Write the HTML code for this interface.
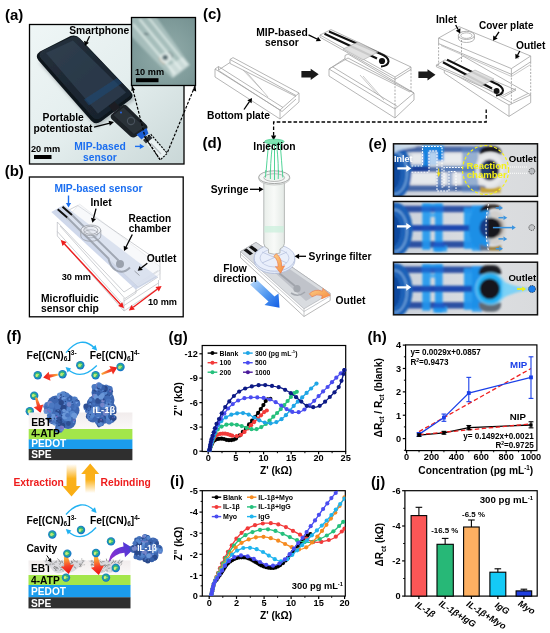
<!DOCTYPE html>
<html><head><meta charset="utf-8"><title>Figure</title>
<style>
html,body{margin:0;padding:0;background:#fff;}
svg{display:block;font-family:"Liberation Sans",sans-serif;}
</style></head><body>
<svg width="550" height="633" viewBox="0 0 550 633">
<rect width="550" height="633" fill="#fff"/>
<g id="pa"><defs>
<linearGradient id="abg" x1="0" y1="0" x2="1" y2="1"><stop offset="0" stop-color="#eff6f6"/><stop offset="0.5" stop-color="#e4eeee"/><stop offset="1" stop-color="#c9d7d7"/></linearGradient>
<linearGradient id="aph" x1="0" y1="0" x2="1" y2="1"><stop offset="0" stop-color="#27323e"/><stop offset="0.5" stop-color="#1c2732"/><stop offset="1" stop-color="#17212b"/></linearGradient>
<radialGradient id="ains" cx="0.55" cy="0.55" r="0.7"><stop offset="0" stop-color="#93adab"/><stop offset="0.6" stop-color="#819d9c"/><stop offset="1" stop-color="#759191"/></radialGradient>
<filter id="ab1" x="-20%" y="-20%" width="140%" height="140%"><feGaussianBlur stdDeviation="0.6"/></filter>
<filter id="ab3" x="-20%" y="-20%" width="140%" height="140%"><feGaussianBlur stdDeviation="0.8"/></filter>
<filter id="ab2" x="-20%" y="-20%" width="140%" height="140%"><feGaussianBlur stdDeviation="1.5"/></filter>
<clipPath id="aclip"><rect x="29.5" y="24.5" width="154.5" height="139.5"/></clipPath>
<clipPath id="aclip2"><rect x="131.5" y="17.5" width="64" height="68"/></clipPath>
</defs>
<rect x="29.5" y="24.5" width="154.5" height="139.5" fill="url(#abg)"/>
<g clip-path="url(#aclip)">
<path d="M38,62 L97,128 L136,99 L130,92 Z" fill="#9aa3a6" opacity="0.6" filter="url(#ab2)"/>
<g filter="url(#ab1)">
<path d="M40,51.5 Q34.5,55.5 38.5,60.5 L91,120.5 Q95.5,125.5 101,121.5 L130.5,99.5 Q134.5,96 130.5,91.5 L80,38.5 Q76,34 70.5,36 Z" fill="#0f161c"/>
<path d="M42,51 Q37.5,54.5 41,58.5 L92.5,117 Q96.5,121 100.5,118 L129,96.5 Q132,94 129,90.5 L79.5,38.8 Q76,35.2 71.5,37 Z" fill="url(#aph)"/>
<path d="M46,53 L73,40.5 L126,92.5 L98,113.5 Z" fill="#36465a" opacity="0.6"/>
<path d="M84,99.5 L117,78 L122,83 L89,105.5 Z" fill="#1f4a78" opacity="0.55"/>
<path d="M108.5,106 L114.5,101.5 L120.5,107.5 L113.5,112.5 Z" fill="#1a1f24"/>
<path d="M111.5,114.5 Q109.5,117 112,119.5 L130.5,136.5 Q133.5,138.5 136,136.5 L146.5,129.5 Q148.5,127.5 146.5,125 L127,106 Q124.5,104 122,105.5 Z" fill="#1b2026"/>
<path d="M113.5,115 L123.5,107.5 L144.5,127 L134,134 Z" fill="#2b3239"/>
<circle cx="131" cy="121" r="3.6" fill="none" stroke="#48525c" stroke-width="1.1"/>
<circle cx="121" cy="112.5" r="0.9" fill="#2b6cf0"/>
<path d="M136.5,134.5 L146.5,128 L148.5,133.5 L141.5,139.5 Z" fill="#1f5fd6"/>
<path d="M143,140 L149.5,135 L166.5,153 L160,159 Z" fill="#e9f1f1"/>
<path d="M143,140 L149.5,135 L152.5,138 L146,143.5 Z" fill="#2a2f34"/>
<path d="M151,143.5 L161,154" stroke="#b8bfc2" stroke-width="1.2"/>
</g>
</g>
<path d="M132,86 L145,137 L160,159.5 M195,86 L167,153.5" stroke="#000" stroke-width="1.2" stroke-dasharray="2.8,1.5" fill="none"/>
<path d="M145,137.5 L151,134.5 L167.3,153.3 L160.2,160 Z" stroke="#000" stroke-width="1.1" stroke-dasharray="2,1.2" fill="none"/>
<path d="M131.3,91 L132,85.8 L135.2,90 Z M195.5,85.8 L196.2,91.5 L192.6,90 Z" fill="#000"/>
<rect x="29.5" y="24.5" width="154.5" height="139.5" fill="none" stroke="#000" stroke-width="1.3"/>
<rect x="131.5" y="17.5" width="64" height="68" fill="url(#ains)"/>
<g clip-path="url(#aclip2)"><g filter="url(#ab3)">
<path d="M128,33 L128,14 L154.3,14 L189.5,64.5 L172,78 Z" fill="#bfd4d0" opacity="0.6"/>
<path d="M133,24 L175,74 M139.5,19 L181,69.5 M146.5,15 L186.5,65" stroke="#e6f1ee" stroke-width="2" opacity="0.75" fill="none"/>
<path d="M136.2,21.5 L178,72 M143,17 L184,67.5" stroke="#9fb9b5" stroke-width="1.3" opacity="0.8" fill="none"/>
<ellipse cx="165.5" cy="58" rx="5.8" ry="5.4" fill="#e3ecea" opacity="0.85"/>
<circle cx="165.2" cy="57.5" r="2.8" fill="#5d7177"/>
<path d="M168.5,52 Q172.5,53.5 172.3,57.5" stroke="#56666a" stroke-width="1" fill="none"/>
<path d="M159.5,57.5 Q160,62.5 165,64" stroke="#c9a68a" stroke-width="0.8" fill="none"/>
<path d="M144,33.5 L148.5,34.5" stroke="#5a6e73" stroke-width="1.3"/>
<path d="M168,66 L183,57 L190,65 L173,78 Z" fill="#e9f2f0" opacity="0.55"/>
</g></g>
<rect x="131.5" y="17.5" width="64" height="68" fill="none" stroke="#000" stroke-width="1.3"/>
<rect x="136" y="78.2" width="22.5" height="4" fill="#000"/>
<text x="135" y="75.2" font-size="9.2" text-anchor="start" fill="#000" font-weight="bold" >10 mm</text>
<text x="99.3" y="34" font-size="10.3" text-anchor="middle" fill="#000" font-weight="bold" >Smartphone</text>
<path d="M89.6,36.3 L86.6,42.5" stroke="#000" stroke-width="1.3"/><path d="M85,46 L83.9,40.8 L88.9,42.8 Z" fill="#000"/>
<text x="63.2" y="120.8" font-size="10.3" text-anchor="middle" fill="#000" font-weight="bold" >Portable</text>
<text x="63" y="131.8" font-size="10.3" text-anchor="middle" fill="#000" font-weight="bold" >potentiostat</text>
<path d="M94,127.2 L110,123.2" stroke="#000" stroke-width="1.3"/><path d="M114,122 L108.6,120.7 L109.8,125.8 Z" fill="#000"/>
<text x="31" y="151.8" font-size="9.2" text-anchor="start" fill="#000" font-weight="bold" >20 mm</text>
<rect x="34" y="155" width="17.5" height="4" fill="#000"/>
<text x="100" y="149.5" font-size="10.3" text-anchor="middle" fill="#1b6ef0" font-weight="bold" >MIP-based</text>
<text x="100" y="160.5" font-size="10.3" text-anchor="middle" fill="#1b6ef0" font-weight="bold" >sensor</text>
<path d="M135,146.4 L141,146.4" stroke="#1b6ef0" stroke-width="1.4"/><path d="M144.3,146.4 L139.8,143.8 L139.8,149 Z" fill="#1b6ef0"/></g>
<g id="pb"><rect x="29.4" y="177" width="153.8" height="139.8" fill="#fff" stroke="#000" stroke-width="1.3"/>
<g fill="none" stroke="#b9bcc2" stroke-width="0.7">
<path d="M57.3,229 L57.3,236 L124,311 L158.5,288 L158.5,280"/>
<path d="M57.3,231.5 L124,305.5 L158.5,283"/>
<path d="M124,298 L124,311"/>
<path d="M60,226 L125,298.5 L158,277"/>
<path d="M77.7,205.5 L160,262 L160,270 L136,286.5 L136,293 L124,301"/>
<path d="M77.7,205.5 L66,211.5"/>
<path d="M160,270 L160,280"/>
<path d="M57.3,222 L57.3,229 M57.3,222 L124,292 L158,270.5"/>
</g>
<path d="M51.3,212 L63.6,205 L157.8,277 L135.7,289.6 Z" fill="#cad4e9" opacity="0.9"/>
<path d="M66,219 L79.5,204 L160,266.5 L160,274 L138,287 Z" fill="#eef1f6" opacity="0.4" stroke="#b9bcc2" stroke-width="0.6"/>
<g fill="none" stroke="#9aa1ad" stroke-width="2" opacity="0.9">
<path d="M72,215 L118.5,260.5"/>
<path d="M67.2,217.5 L108.5,258.5 Q110,266 115.5,270 Q123,274.5 130,267.5"/>
</g>
<circle cx="120" cy="264" r="4" fill="#9aa1ad"/>
<path d="M57.7,209.2 L67.2,217.5 M62.5,206.8 L72,215" stroke="#111" stroke-width="2" fill="none"/>
<g fill="none" stroke="#9a9ea6" stroke-width="0.8">
<ellipse cx="90.8" cy="230.3" rx="10" ry="5.3" fill="#eef0f4" fill-opacity="0.6"/>
<ellipse cx="90.8" cy="230.3" rx="7" ry="4"/>
<path d="M80.8,230.3 L80.8,236 A10,5.3 0 0 0 100.8,236 L100.8,230.3"/>
<ellipse cx="90.8" cy="233.8" rx="7" ry="4" stroke-width="0.6"/>
</g>
<path d="M134.5,271 L139.5,275.5" stroke="#9a9ea6" stroke-width="1"/>
<path d="M60.8,240.0 L62.5,245.9 L66.6,242.1 Z" fill="#ee1c1c"/><line x1="64.5" y1="244.0" x2="120.3" y2="304.2" stroke="#ee1c1c" stroke-width="1.4"/><path d="M124.0,308.2 L118.2,306.1 L122.3,302.3 Z" fill="#ee1c1c"/>
<path d="M128.8,310.6 L134.9,309.5 L131.5,305.1 Z" fill="#ee1c1c"/><line x1="133.2" y1="307.3" x2="157.2" y2="289.3" stroke="#ee1c1c" stroke-width="1.4"/><path d="M161.6,286.0 L158.9,291.5 L155.5,287.1 Z" fill="#ee1c1c"/>
<text x="54.4" y="191.6" font-size="10.3" text-anchor="start" fill="#1b6ef0" font-weight="bold" >MIP-based sensor</text>
<line x1="68.5" y1="195.5" x2="68.5" y2="203.0" stroke="#1b6ef0" stroke-width="1.4"/><path d="M68.5,207.5 L65.9,203.0 L71.1,203.0 Z" fill="#1b6ef0"/>
<text x="90.5" y="205.5" font-size="10.3" text-anchor="start" fill="#000" font-weight="bold" >Inlet</text>
<line x1="96.0" y1="208.6" x2="93.5" y2="218.4" stroke="#000" stroke-width="1.3"/><path d="M92.4,222.8 L91.0,217.8 L96.0,219.1 Z" fill="#000"/>
<text x="149.8" y="222.2" font-size="10.1" text-anchor="middle" fill="#000" font-weight="bold" >Reaction</text>
<text x="149.8" y="231.6" font-size="10.1" text-anchor="middle" fill="#000" font-weight="bold" >chamber</text>
<line x1="132.3" y1="234.5" x2="126.0" y2="247.0" stroke="#000" stroke-width="1.3"/><path d="M124.0,251.0 L123.7,245.8 L128.3,248.1 Z" fill="#000"/>
<text x="146.7" y="261.8" font-size="10.3" text-anchor="start" fill="#000" font-weight="bold" >Outlet</text>
<line x1="147.3" y1="263.2" x2="141.2" y2="268.0" stroke="#000" stroke-width="1.3"/><path d="M137.7,270.8 L139.6,266.0 L142.8,270.0 Z" fill="#000"/>
<text x="61.7" y="279.6" font-size="9.2" text-anchor="start" fill="#000" font-weight="bold" >30 mm</text>
<text x="147.9" y="305.3" font-size="9.2" text-anchor="start" fill="#000" font-weight="bold" >10 mm</text>
<text x="41" y="301.7" font-size="10.3" text-anchor="start" fill="#000" font-weight="bold" >Microfluidic</text>
<text x="41" y="311.5" font-size="10.3" text-anchor="start" fill="#000" font-weight="bold" >sensor chip</text></g>
<g id="pc"><g fill="none" stroke="#a3a3a3" stroke-width="0.8" stroke-linejoin="round">
<path d="M215,69 L280,110 L280,119 L215,77 Z" fill="#fff"/>
<path d="M280,110 L299,93 L299,102 L280,119"/>
<path d="M215,69 L218.5,66.5 L283,107.5 M218.5,66.5 L218.5,70"/>
<path d="M218.5,70 L230,62.5 M230,59.5 L230,63.5 L296,96.5"/>
<path d="M230,59.5 L233,57.6 L299,93 M230,59.5 L296,95.5"/>
<path d="M218.5,70.5 L282,111.5 L296,99"/>
<path d="M243,70 L262,90 M246,71.5 L268,97" stroke-width="0.6"/>
</g>
<text x="207" y="119" font-size="10.3" text-anchor="start" fill="#000" font-weight="bold" >Bottom plate</text>
<line x1="244.0" y1="109.5" x2="249.4" y2="101.7" stroke="#000" stroke-width="1.3"/><path d="M252.0,98.0 L251.6,103.2 L247.3,100.2 Z" fill="#000"/>
<path d="M301.4,71.1 L310.7,71.1 L310.7,68.7 L318.7,74.3 L310.7,79.89999999999999 L310.7,77.5 L301.4,77.5 Z" fill="#1a1a1a"/>
<text x="282" y="35.8" font-size="10.3" text-anchor="middle" fill="#000" font-weight="bold" >MIP-based</text>
<text x="282" y="46.4" font-size="10.3" text-anchor="middle" fill="#000" font-weight="bold" >sensor</text>
<line x1="308.5" y1="34.8" x2="317.0" y2="39.0" stroke="#000" stroke-width="1.3"/><path d="M321.0,41.0 L315.8,41.3 L318.1,36.7 Z" fill="#000"/>
<g fill="none" stroke="#a3a3a3" stroke-width="0.8" stroke-linejoin="round">
<path d="M348,58 L414,93 L414,100 L395,118 L329,76 L329,69 Z" fill="#fff"/>
<path d="M329,69 L395,109 L395,118 M395,109 L414,93"/>
<path d="M329,69 L332.5,66.8 L397.5,106.5 M332.5,66.8 L345,58.5 M345,55.5 L345,59.5 L410,92"/>
<path d="M345,55.5 L348,54 L414,93"/>
<path d="M360,75 L378,95 M363,76 L384,100" stroke-width="0.6"/>
<path d="M320,35 L331,29.6 L411,67 L411,69.4 L395,79.4 L320,37.2 Z" fill="#fff"/>
<path d="M320,35 L395,77 L411,67 M395,77 L395,79.4"/>
</g>
<path d="M395,79.4 L395,109 M411,69.4 L411,92" stroke="#888" stroke-width="0.7" stroke-dasharray="2,1.4" fill="none"/>
<g fill="none" stroke="#111" stroke-width="2.1">
<path d="M324.5,33.8 L377,58.5"/>
<path d="M329,31.5 L381,54 Q388.5,57 388.5,61.5 Q388,66 381,66.5"/>
</g>
<circle cx="382" cy="61" r="3.1" fill="#111"/>
<path d="M343,49 L358,42 L378,52 L363,60 Z" fill="#dedede" stroke="#a0a0a0" stroke-width="0.6" opacity="0.9"/>
<path d="M418.4,71.6 L427.5,71.6 L427.5,69.2 L435.5,74.8 L427.5,80.39999999999999 L427.5,78.0 L418.4,78.0 Z" fill="#1a1a1a"/>
<g fill="none" stroke="#a3a3a3" stroke-width="0.8" stroke-linejoin="round">
<path d="M463,56 L530.7,94.8 L530.7,102.7 L509,116.4 L444.3,73 L444.3,68.6 Z" fill="#fff"/>
<path d="M444.3,68.6 L509,105 L509,116.4 M509,105 L530.7,94.8"/>
<path d="M447,66.5 L511,102.5 M513,101 L528,93.5"/>
<path d="M436.4,65 L445,59.8 L516,90 L504.5,96.5 L436.4,66.8 Z" fill="#fff"/>
<path d="M436.4,65 L504.5,94.5 L516,88.5"/>
</g>
<g fill="none" stroke="#111" stroke-width="2.1">
<path d="M443,62.3 L492,88.5"/>
<path d="M447,59.6 L494.5,83 Q502.5,86 503,90.5 Q502.5,95 496,95.5"/>
</g>
<circle cx="496.6" cy="91" r="2.9" fill="#111"/>
<path d="M462.5,76.5 L475,70 L494,79 L481,86 Z" fill="#dedede" stroke="#a0a0a0" stroke-width="0.6" opacity="0.9"/>
<g fill="none" stroke="#a3a3a3" stroke-width="0.8" stroke-linejoin="round">
<path d="M438.6,38 L459,26.6 L530.7,56 L530.7,61.8 L511.4,74.3 L438.6,43.6 Z" fill="#fff" fill-opacity="0.85"/>
<path d="M438.6,38 L511.4,68.6 L530.7,56 M511.4,68.6 L511.4,74.3"/>
<path d="M441,45.5 L511.4,76.5 L530.7,64.5" stroke-width="0.6"/>
<ellipse cx="466.4" cy="38.4" rx="8" ry="4.1" fill="#fff"/>
<path d="M458.4,38.4 L458.4,35.4 A8,4.1 0 0 1 474.4,35.4 L474.4,38.4"/>
<ellipse cx="466.4" cy="35.4" rx="8" ry="4.1" fill="#fff"/>
<ellipse cx="466.4" cy="35.6" rx="5.6" ry="2.8"/>
</g>
<path d="M438.6,43.6 L438.6,65 M511.4,74.3 L511.4,105 M530.7,61.8 L530.7,94.8 M461.5,40 L461.5,62" stroke="#888" stroke-width="0.7" stroke-dasharray="2,1.4" fill="none"/>
<circle cx="518" cy="58" r="0.8" fill="#999"/>
<text x="436" y="23.4" font-size="10.2" text-anchor="start" fill="#000" font-weight="bold" >Inlet</text>
<line x1="455.7" y1="25.0" x2="458.1" y2="29.5" stroke="#000" stroke-width="1.3"/><path d="M460.2,33.5 L455.8,30.7 L460.4,28.3 Z" fill="#000"/>
<text x="479" y="29" font-size="10" text-anchor="start" fill="#000" font-weight="bold" >Cover plate</text>
<line x1="499.0" y1="31.8" x2="495.5" y2="37.1" stroke="#000" stroke-width="1.3"/><path d="M493.0,40.8 L493.3,35.6 L497.7,38.5 Z" fill="#000"/>
<text x="516" y="48.8" font-size="10.2" text-anchor="start" fill="#000" font-weight="bold" >Outlet</text>
<line x1="519.8" y1="51.0" x2="517.6" y2="55.0" stroke="#000" stroke-width="1.3"/><path d="M515.5,59.0 L515.3,53.8 L519.9,56.3 Z" fill="#000"/>
<path d="M486.2,109.5 L486.2,122 L273.6,122 L273.6,136" stroke="#000" stroke-width="1.3" stroke-dasharray="3.6,2" fill="none"/>
<path d="M273.6,140.5 L271,135.5 L276.2,135.5 Z" fill="#000"/></g>
<g id="pd"><defs>
<linearGradient id="dflow" gradientUnits="userSpaceOnUse" x1="251" y1="280" x2="279" y2="307"><stop offset="0" stop-color="#b9d9fa"/><stop offset="0.55" stop-color="#4f97f0"/><stop offset="1" stop-color="#1560e6"/></linearGradient>
<linearGradient id="dor" x1="0" y1="0" x2="1" y2="1"><stop offset="0" stop-color="#fbd08a"/><stop offset="1" stop-color="#f58a3c"/></linearGradient>
<linearGradient id="dbar" x1="0" y1="0" x2="1" y2="0"><stop offset="0" stop-color="#e9eeea"/><stop offset="0.5" stop-color="#f8faf8"/><stop offset="1" stop-color="#e3e9e5"/></linearGradient>
</defs>
<path d="M240.5,251.6 L256,242.4 L330.2,293.4 L330.2,300.5 L304,316.5 L240.5,257.5 Z" fill="#fff" stroke="#9a9a9a" stroke-width="0.7"/>
<path d="M240.5,251.6 L256,242.4 L330.2,293.4 L304,308.8 Z" fill="#d9dce0" stroke="#a5a8ad" stroke-width="0.6"/>
<path d="M240.5,254 L304,311.5 L330.2,296" fill="none" stroke="#a5a8ad" stroke-width="0.6"/>
<path d="M304,308.8 L304,316.5" stroke="#a5a8ad" stroke-width="0.6"/>
<path d="M272,270 L283,264.5 L322,291.5 L306,301 Z" fill="#b9bdc4" opacity="0.8"/>
<path d="M279,273 L295,286" stroke="#a0a4ab" stroke-width="2"/>
<circle cx="297" cy="288.7" r="3.6" fill="#a3a7ae"/>
<path d="M291,293 Q298,298 305,292" fill="none" stroke="#a3a7ae" stroke-width="1.6"/>
<path d="M243.5,250.3 L246.5,248.5 L253,253.5 L250,255.3 Z M248.8,247.2 L251.8,245.4 L258.3,250.4 L255.3,252.2 Z" fill="#111"/>
<ellipse cx="274.5" cy="260.3" rx="20.4" ry="13.2" fill="#e6edfb" stroke="#a9b6d6" stroke-width="0.8" opacity="0.92"/>
<ellipse cx="274.5" cy="258" rx="20.4" ry="13.2" fill="#eaf0fc" stroke="#a9b6d6" stroke-width="0.8" opacity="0.92"/>
<ellipse cx="274.5" cy="258" rx="14.5" ry="9" fill="none" stroke="#b6c2de" stroke-width="0.7"/>
<path d="M262,252 L287,263 M262,263 L287,252" stroke="#b6c2de" stroke-width="0.8"/>
<path d="M263.8,179 L263.8,243.5 Q263.8,247 268.5,249 L268.5,253 Q274,255.5 280,253 L280,249 Q284.4,247 284.4,243.5 L284.4,179 Z" fill="url(#dbar)" stroke="#a6aaa8" stroke-width="0.8"/>
<rect x="264.4" y="226" width="19.4" height="6.5" fill="#c9f0dc" opacity="0.7"/>
<g fill="none" stroke="#3ecf8c" stroke-width="0.9">
<path d="M268.6,143.5 Q267,160 265.6,177.5 M280.2,143.5 Q281.5,160 282.8,177.5 M272.5,144 Q270,165 270.5,180 M276.5,144 Q279,165 278,180 M274.5,144 L274.5,181"/>
</g>
<ellipse cx="274.3" cy="141.6" rx="9.8" ry="2.4" fill="#7fe3b2" stroke="#3ecf8c" stroke-width="0.7"/>
<ellipse cx="274.2" cy="178.6" rx="15.6" ry="6.4" fill="#f4f6f5" fill-opacity="0.7" stroke="#b5b7b6" stroke-width="0.7"/>
<ellipse cx="274.2" cy="177.2" rx="15.6" ry="6.4" fill="#f8faf9" fill-opacity="0.75" stroke="#9d9f9e" stroke-width="0.9"/>
<ellipse cx="274.2" cy="177.6" rx="10.4" ry="3.9" fill="#eef3ef" stroke="#9d9f9e" stroke-width="0.7"/>
<g fill="none" stroke="#3ecf8c" stroke-width="0.9"><path d="M265.9,170 L265.5,177.5 M282.3,170 L282.8,177.5 M270.3,170 L270.4,179 M278.5,170 L278.2,179 M274.5,170 L274.5,180"/></g>
<path d="M273.8,256.2 Q278.6,260.5 278,267.2 L275.4,266.6 L280.6,273.2 L284.6,265.8 L281.6,266.8 Q282.2,258.5 276.4,253.8 Z" fill="url(#dor)" stroke="#ee7040" stroke-width="0.6"/>
<path d="M309.4,293.8 Q314.5,288.4 322.6,291.2 L322.8,288.4 L330.2,295.2 L321.6,298.8 L322.2,295.6 Q316.5,293.6 312,296.8 Z" fill="url(#dor)" stroke="#ee7040" stroke-width="0.6"/>
<path d="M250,284.5 L256.5,279.5 L274.5,296.5 L278.5,293.5 L279.5,307.8 L264.5,305 L268.5,301.5 Z" fill="url(#dflow)"/>
<text x="274.5" y="149.6" font-size="10.3" text-anchor="middle" fill="#000" font-weight="bold" >Injection</text>
<text x="210.7" y="193" font-size="10.3" text-anchor="start" fill="#000" font-weight="bold" >Syringe</text>
<line x1="250.0" y1="189.3" x2="259.0" y2="189.3" stroke="#000" stroke-width="1.3"/><path d="M263.5,189.3 L259.0,191.9 L259.0,186.7 Z" fill="#000"/>
<text x="308.6" y="259.6" font-size="10.3" text-anchor="start" fill="#000" font-weight="bold" >Syringe filter</text>
<line x1="306.0" y1="256.3" x2="299.1" y2="256.3" stroke="#000" stroke-width="1.3"/><path d="M294.6,256.3 L299.1,253.7 L299.1,258.9 Z" fill="#000"/>
<text x="235" y="272.3" font-size="10.3" text-anchor="middle" fill="#000" font-weight="bold" >Flow</text>
<text x="235" y="282.3" font-size="10.3" text-anchor="middle" fill="#000" font-weight="bold" >direction</text>
<text x="335.6" y="304.2" font-size="10.3" text-anchor="start" fill="#000" font-weight="bold" >Outlet</text></g>
<g id="pe"><defs>
<linearGradient id="ebg" x1="0" y1="0" x2="1" y2="0"><stop offset="0" stop-color="#c9d0da"/><stop offset="0.6" stop-color="#dcdee1"/><stop offset="1" stop-color="#d9dbdd"/></linearGradient>
<filter id="eb2" x="-5%" y="-5%" width="110%" height="110%"><feGaussianBlur stdDeviation="1.1"/></filter>
</defs>
<clipPath id="ec1"><rect x="393.5" y="143.8" width="144.0" height="52.5"/></clipPath>
<rect x="393.5" y="143.8" width="144.0" height="52.5" fill="url(#ebg)"/>
<g clip-path="url(#ec1)">
<g filter="url(#eb2)">
<rect x="393.5" y="146.5" width="92" height="5.6" fill="#2f549c" opacity="0.85"/>
<rect x="403.5" y="166.95" width="80" height="5.199999999999999" fill="#2f549c" opacity="0.8"/>
<rect x="393.5" y="185.5" width="92" height="5.6" fill="#2f549c" opacity="0.85"/>
<rect x="412" y="153.8" width="50" height="9.5" fill="#eceef0" opacity="0.8"/>
<rect x="409" y="172.8" width="53" height="11" fill="#eceef0" opacity="0.8"/>
<path d="M422.7,145.60000000000002 L443.5,145.60000000000002 L443.5,160.8 L437,160.8 L437,151.3 L429,151.3 L429,171.8 L412,171.8 L412,165.3 L422.7,165.3 Z" fill="#1583e0"/>
<rect x="429" y="151.3" width="8" height="14" fill="#a9cdf0" opacity="0.8"/>
<rect x="412" y="166.0" width="17" height="5.6" fill="#1d3f98"/>
<rect x="437" y="167.8" width="5" height="22" fill="#4a73b5" opacity="0.75"/>
<rect x="447.5" y="167.8" width="5" height="22" fill="#6a8cc2" opacity="0.6"/>
<rect x="442" y="166.20000000000002" width="20" height="5" fill="#5a80ba" opacity="0.8"/>
<ellipse cx="395.5" cy="172.05" rx="16" ry="27.3" fill="#1f5fb4"/>
<ellipse cx="394.5" cy="173.05" rx="12.5" ry="21.0" fill="none" stroke="#7fb2e2" stroke-width="1.8" opacity="0.85"/>
<ellipse cx="392.5" cy="173.05" rx="8" ry="15.75" fill="#0f4398" opacity="0.85"/>
<path d="M393.5,143.8 L415.5,143.8 L415.5,147.3 Q401.5,148.8 393.5,152.8 Z" fill="#d3e2ee" opacity="0.9"/>
<rect x="462" y="147.8" width="16" height="44.5" fill="#5f8ac4" opacity="0.55"/>
<ellipse cx="489.5" cy="170.05" rx="14" ry="17" fill="#e9eaec" opacity="0.9"/>
<ellipse cx="489.5" cy="170.05" rx="9.6" ry="10.5" fill="#1a2140"/>
<ellipse cx="485.5" cy="170.05" rx="5" ry="8" fill="#2a4a86" opacity="0.7"/>
<path d="M479.5,154.3 Q479.5,146.8 487.5,146.3 L493.5,146.3 Q501.5,146.8 501.5,154.3 Q490.5,148.8 479.5,154.3 Z" fill="#14161c"/>
<path d="M480.5,186.3 Q490.5,191.3 500.5,186.3 L500.5,192.8 L480.5,192.8 Z" fill="#c6a032"/>
</g>
</g>
<rect x="393.5" y="143.8" width="144.0" height="52.5" fill="none" stroke="#111" stroke-width="1.5"/>
<clipPath id="ec2"><rect x="393.5" y="201.5" width="144.0" height="52.400000000000006"/></clipPath>
<rect x="393.5" y="201.5" width="144.0" height="52.400000000000006" fill="url(#ebg)"/>
<g clip-path="url(#ec2)">
<g filter="url(#eb2)">
<rect x="393.5" y="205.8" width="92" height="6.4" fill="#24489f" opacity="0.95"/>
<rect x="403.5" y="225.0" width="80" height="6.0" fill="#24489f" opacity="0.95"/>
<rect x="393.5" y="241.20000000000002" width="92" height="6.4" fill="#24489f" opacity="0.95"/>
<rect x="422.3" y="203.5" width="8" height="46.400000000000006" fill="#1f98f0" opacity="0.9"/>
<rect x="435" y="203.5" width="7.6" height="48.400000000000006" fill="#1f98f0" opacity="0.9"/>
<rect x="422.3" y="203.5" width="20.3" height="5" fill="#1f98f0" opacity="0.9"/>
<rect x="430" y="213.0" width="6" height="4" fill="#1f98f0" opacity="0.7"/>
<rect x="433" y="245.4" width="14" height="6" fill="#1f98f0" opacity="0.9"/>
<rect x="464" y="207.5" width="10" height="41.400000000000006" fill="#1f98f0" opacity="0.92"/>
<rect x="472" y="205.5" width="12" height="22.008000000000003" fill="#1f98f0" opacity="0.9"/>
<rect x="472" y="230.0" width="10" height="20.960000000000004" fill="#1f98f0" opacity="0.85"/>
<rect x="421" y="206.2" width="23" height="5.6" fill="#1f5fc8" opacity="0.8"/>
<rect x="412" y="225.0" width="66" height="6" fill="#1d47b0" opacity="0.9"/>
<rect x="433" y="241.9" width="12" height="5.5" fill="#1f50c0" opacity="0.8"/>
<ellipse cx="395.5" cy="229.7" rx="17" ry="27.248000000000005" fill="#1c62b8"/>
<ellipse cx="394.5" cy="230.7" rx="12.5" ry="20.960000000000004" fill="none" stroke="#7fb2e2" stroke-width="1.8" opacity="0.85"/>
<ellipse cx="392.5" cy="230.7" rx="8" ry="15.72" fill="#0f4398" opacity="0.85"/>
<ellipse cx="481" cy="227.7" rx="12" ry="22" fill="#1b8fe6"/>
<ellipse cx="495" cy="227.7" rx="11" ry="17" fill="#cfccc9" opacity="0.85"/>
<ellipse cx="497" cy="227.7" rx="6.5" ry="9" fill="#8a817a" opacity="0.8"/>
<ellipse cx="491" cy="228.2" rx="10" ry="10.4" fill="#17181f"/>
<path d="M487.5,217.7 A9.6,10.4 0 0 0 487.5,238.2 Z" fill="#163a86"/>
<path d="M480,212.0 Q480,205.0 489,204.5 L489,210.5 Q485,209.5 480,212.0 Z" fill="#14161c"/>
<path d="M489,204.5 L495,204.5 Q501,205.0 501,209.0 Q494,207.0 489,209.5 Z" fill="#2e2722"/>
<path d="M489,246.4 Q495,247.9 501,244.9 L501,250.4 L489,250.4 Z" fill="#9a7a35"/>
<path d="M480,243.9 Q485,246.9 489,246.4 L489,250.4 L480,250.4 Z" fill="#5a6f8a"/>
</g>
</g>
<rect x="393.5" y="201.5" width="144.0" height="52.400000000000006" fill="none" stroke="#111" stroke-width="1.5"/>
<clipPath id="ec3"><rect x="393.5" y="262.2" width="144.0" height="52.60000000000002"/></clipPath>
<rect x="393.5" y="262.2" width="144.0" height="52.60000000000002" fill="url(#ebg)"/>
<g clip-path="url(#ec3)">
<g filter="url(#eb2)">
<rect x="393.5" y="266.5" width="92" height="6.4" fill="#24489f" opacity="0.95"/>
<rect x="403.5" y="285.8" width="80" height="6.0" fill="#24489f" opacity="0.95"/>
<rect x="393.5" y="302.1" width="92" height="6.4" fill="#24489f" opacity="0.95"/>
<rect x="422.3" y="264.2" width="8" height="46.60000000000002" fill="#1f98f0" opacity="0.9"/>
<rect x="435" y="264.2" width="7.6" height="48.60000000000002" fill="#1f98f0" opacity="0.9"/>
<rect x="422.3" y="264.2" width="20.3" height="5" fill="#1f98f0" opacity="0.9"/>
<rect x="430" y="273.7" width="6" height="4" fill="#1f98f0" opacity="0.7"/>
<rect x="433" y="306.3" width="14" height="6" fill="#1f98f0" opacity="0.9"/>
<rect x="464" y="268.2" width="10" height="41.60000000000002" fill="#1f98f0" opacity="0.92"/>
<rect x="472" y="266.2" width="12" height="22.09200000000001" fill="#1f98f0" opacity="0.9"/>
<rect x="472" y="290.8" width="10" height="21.04000000000001" fill="#1f98f0" opacity="0.85"/>
<rect x="421" y="266.9" width="23" height="5.6" fill="#1f5fc8" opacity="0.8"/>
<rect x="412" y="285.8" width="66" height="6" fill="#1d47b0" opacity="0.9"/>
<rect x="433" y="302.8" width="12" height="5.5" fill="#1f50c0" opacity="0.8"/>
<ellipse cx="395.5" cy="290.5" rx="17" ry="27.352000000000015" fill="#1c62b8"/>
<ellipse cx="394.5" cy="291.5" rx="12.5" ry="21.04000000000001" fill="none" stroke="#7fb2e2" stroke-width="1.8" opacity="0.85"/>
<ellipse cx="392.5" cy="291.5" rx="8" ry="15.780000000000006" fill="#0f4398" opacity="0.85"/>
<rect x="472" y="269.2" width="10" height="38.60000000000002" fill="#1e90e8"/>
<path d="M478.7,274.2 Q478.7,265.7 486.7,265.2 L493.7,265.2 Q501.2,265.7 501.2,274.2 Z" fill="#1a1c22"/>
<path d="M478.7,302.8 L501.2,302.8 Q501.2,311.3 493.7,311.8 L486.7,311.8 Q478.7,311.3 478.7,302.8 Z" fill="#616a74"/>
<ellipse cx="490.7" cy="288.8" rx="15.5" ry="16.5" fill="#7fd2f6" opacity="0.8"/>
<ellipse cx="490.2" cy="288.8" rx="13.6" ry="15" fill="#22aef2"/>
<path d="M501.7,280.8 Q513.7,286.8 528.7,288.0 L528.7,290.2 Q513.7,291.8 501.7,298.8 Z" fill="#74d0f8" opacity="0.9"/>
<ellipse cx="489.7" cy="288.8" rx="10.2" ry="10.4" fill="#14151a"/>
</g>
</g>
<rect x="393.5" y="262.2" width="144.0" height="52.60000000000002" fill="none" stroke="#111" stroke-width="1.5"/>
<g fill="none" stroke="#fff" stroke-width="1.1" stroke-dasharray="1.8,1.2">
<path d="M411.5,172.3 L429,172.3 L429,151 L437,151 L437,191 L449,191 L449,171.5 L456,171.5 L456,191"/>
<path d="M411.5,166 L422.5,166 L422.5,146.5 L442,146.5 L442,187 L444,187 L444,167.5 L463,167.5"/>
<path d="M508,167 L528,167 M508,173.2 L528,173.2" stroke-dasharray="1,1"/>
</g>
<ellipse cx="485.6" cy="170" rx="23" ry="24.5" fill="none" stroke="#f4f01a" stroke-width="1.2" stroke-dasharray="3,2"/>
<path d="M438.7,168.5 L438.7,173" stroke="#f4e01a" stroke-width="1"/><path d="M438.7,177 L436.9,172.6 L440.5,172.6 Z" fill="#f4e01a"/>
<text x="394" y="161.8" font-size="9" text-anchor="start" fill="#fff" font-weight="bold" >Inlet</text>
<path d="M397.3,167.3 L406.3,167.3 L406.3,165.0 L411.3,168.4 L406.3,171.8 L406.3,169.5 L397.3,169.5 Z" fill="#fff"/>
<text x="486.7" y="168.6" font-size="9.6" text-anchor="middle" fill="#f4f01a" font-weight="bold" >Reaction</text>
<text x="486.7" y="177.9" font-size="9.6" text-anchor="middle" fill="#f4f01a" font-weight="bold" >chamber</text>
<text x="508.7" y="161.6" font-size="9.6" text-anchor="start" fill="#000" font-weight="bold" >Outlet</text>
<circle cx="531.9" cy="171.2" r="2.9" fill="#b9bcc0" stroke="#333" stroke-width="0.8" stroke-dasharray="1.2,0.8"/>
<path d="M397,225.20000000000002 L406.3,225.20000000000002 L406.3,222.9 L411.3,226.3 L406.3,229.70000000000002 L406.3,227.4 L397,227.4 Z" fill="#fff"/>
<path d="M488.5,204 Q483.5,227.5 488.5,251" fill="none" stroke="#fff" stroke-width="1" stroke-dasharray="2.4,1.6"/>
<line x1="495.7" y1="207.9" x2="499.2" y2="207.9" stroke="#3a94e0" stroke-width="1.5"/><path d="M503.0,207.9 L499.2,210.2 L499.2,205.6 Z" fill="#3a94e0"/>
<line x1="498.5" y1="217.7" x2="503.5" y2="217.7" stroke="#3a94e0" stroke-width="1.5"/><path d="M507.3,217.7 L503.5,220.0 L503.5,215.4 Z" fill="#3a94e0"/>
<line x1="492.9" y1="227.6" x2="512.0" y2="227.6" stroke="#3a94e0" stroke-width="1.5"/><path d="M515.8,227.6 L512.0,229.9 L512.0,225.3 Z" fill="#3a94e0"/>
<line x1="498.5" y1="238.9" x2="503.5" y2="238.9" stroke="#3a94e0" stroke-width="1.5"/><path d="M507.3,238.9 L503.5,241.2 L503.5,236.6 Z" fill="#3a94e0"/>
<line x1="495.7" y1="248.7" x2="499.2" y2="248.7" stroke="#3a94e0" stroke-width="1.5"/><path d="M503.0,248.7 L499.2,251.0 L499.2,246.4 Z" fill="#3a94e0"/>
<circle cx="531.8" cy="227.6" r="2.9" fill="#c4c6c9" stroke="#333" stroke-width="0.8" stroke-dasharray="1.2,0.8"/>
<path d="M397,286.2 L406.3,286.2 L406.3,283.90000000000003 L411.3,287.3 L406.3,290.7 L406.3,288.40000000000003 L397,288.40000000000003 Z" fill="#fff"/>
<text x="508.4" y="281" font-size="9.6" text-anchor="start" fill="#000" font-weight="bold" >Outlet</text>
<line x1="517.0" y1="289.0" x2="522.2" y2="289.0" stroke="#f2ee10" stroke-width="1.8"/><path d="M526.0,289.0 L522.2,291.4 L522.2,286.6 Z" fill="#f2ee10"/>
<circle cx="532" cy="289" r="3.5" fill="#1b7eea" stroke="#123" stroke-width="0.7" stroke-dasharray="1.2,0.8"/></g>
<g id="pf"><defs>
<radialGradient id="feb" cx="0.47" cy="0.47" r="0.56"><stop offset="0" stop-color="#8fe646"/><stop offset="0.4" stop-color="#36b878"/><stop offset="0.75" stop-color="#1684c4"/><stop offset="1" stop-color="#0f63c8"/></radialGradient>
<linearGradient id="febt" x1="0" y1="0" x2="0" y2="1"><stop offset="0" stop-color="#f1ecec"/><stop offset="1" stop-color="#fbf9f9"/></linearGradient>
<filter id="fpb" x="-10%" y="-10%" width="120%" height="120%"><feGaussianBlur stdDeviation="0.5"/></filter>
<linearGradient id="fdn" x1="0" y1="0" x2="0" y2="1"><stop offset="0" stop-color="#fbb21a" stop-opacity="0"/><stop offset="0.45" stop-color="#fbb21a" stop-opacity="1"/><stop offset="1" stop-color="#f9ad14"/></linearGradient>
<linearGradient id="fup" x1="0" y1="0" x2="0" y2="1"><stop offset="0" stop-color="#f9ad14"/><stop offset="0.55" stop-color="#fbb21a" stop-opacity="1"/><stop offset="1" stop-color="#fbb21a" stop-opacity="0"/></linearGradient>
<linearGradient id="fpur" gradientUnits="userSpaceOnUse" x1="111" y1="560" x2="132" y2="548"><stop offset="0" stop-color="#8a2fd0"/><stop offset="1" stop-color="#4a3ad8"/></linearGradient>
<linearGradient id="fr1" gradientUnits="userSpaceOnUse" x1="57.8" y1="374.7" x2="43.2" y2="377"><stop offset="0" stop-color="#fbb03a"/><stop offset="0.55" stop-color="#f5402a"/><stop offset="1" stop-color="#ee1515"/></linearGradient>
<linearGradient id="fr2" gradientUnits="userSpaceOnUse" x1="101.6" y1="374" x2="117" y2="368"><stop offset="0" stop-color="#fbb03a"/><stop offset="0.55" stop-color="#f5402a"/><stop offset="1" stop-color="#ee1515"/></linearGradient>
<linearGradient id="fr3" gradientUnits="userSpaceOnUse" x1="36" y1="397" x2="40.5" y2="412.5"><stop offset="0" stop-color="#fbb03a"/><stop offset="0.55" stop-color="#f5402a"/><stop offset="1" stop-color="#ee1515"/></linearGradient>
<linearGradient id="fr4" gradientUnits="userSpaceOnUse" x1="66" y1="558" x2="68.6" y2="573"><stop offset="0" stop-color="#fbb03a"/><stop offset="0.55" stop-color="#f5402a"/><stop offset="1" stop-color="#ee1515"/></linearGradient>
<linearGradient id="fr5" gradientUnits="userSpaceOnUse" x1="96" y1="558" x2="98.6" y2="574"><stop offset="0" stop-color="#fbb03a"/><stop offset="0.55" stop-color="#f5402a"/><stop offset="1" stop-color="#ee1515"/></linearGradient>
</defs>
<text x="26.6" y="359.4" font-size="10.3" text-anchor="start" fill="#000" font-weight="bold" >Fe[(CN)<tspan dy="2" font-size="6.5">6</tspan><tspan dy="-2">]</tspan><tspan dy="-4" font-size="6.5">3-</tspan></text>
<text x="89.7" y="359.4" font-size="10.3" text-anchor="start" fill="#000" font-weight="bold" >Fe[(CN)<tspan dy="2" font-size="6.5">6</tspan><tspan dy="-2">]</tspan><tspan dy="-4" font-size="6.5">4-</tspan></text>
<path d="M66,352.7 Q81,334.5 94.5,348" fill="none" stroke="#22b2f2" stroke-width="1.3"/><path d="M97.2,350.8 L91.6,348.6 L95.6,345 Z" fill="#22b2f2"/>
<path d="M96.8,365.5 Q81.5,381 68,369.5" fill="none" stroke="#22b2f2" stroke-width="1.3"/><path d="M65.6,367 L71.2,368.6 L67.6,372.6 Z" fill="#22b2f2"/>
<circle cx="80.3" cy="365.3" r="4.2" fill="url(#feb)"/><text x="80.0" y="366.90000000000003" font-size="4.6" text-anchor="middle" fill="#f4f48a" font-weight="bold">e<tspan dy="-1.5" font-size="3.4">-</tspan></text>
<circle cx="37.7" cy="375.2" r="4.2" fill="url(#feb)"/><text x="37.400000000000006" y="376.8" font-size="4.6" text-anchor="middle" fill="#f4f48a" font-weight="bold">e<tspan dy="-1.5" font-size="3.4">-</tspan></text>
<circle cx="62.5" cy="374.2" r="4.2" fill="url(#feb)"/><text x="62.2" y="375.8" font-size="4.6" text-anchor="middle" fill="#f4f48a" font-weight="bold">e<tspan dy="-1.5" font-size="3.4">-</tspan></text>
<circle cx="95.6" cy="375.2" r="4.2" fill="url(#feb)"/><text x="95.3" y="376.8" font-size="4.6" text-anchor="middle" fill="#f4f48a" font-weight="bold">e<tspan dy="-1.5" font-size="3.4">-</tspan></text>
<circle cx="120.5" cy="367" r="4.2" fill="url(#feb)"/><text x="120.2" y="368.6" font-size="4.6" text-anchor="middle" fill="#f4f48a" font-weight="bold">e<tspan dy="-1.5" font-size="3.4">-</tspan></text>
<circle cx="34.2" cy="395.7" r="4.2" fill="url(#feb)"/><text x="33.900000000000006" y="397.3" font-size="4.6" text-anchor="middle" fill="#f4f48a" font-weight="bold">e<tspan dy="-1.5" font-size="3.4">-</tspan></text>
<circle cx="29.8" cy="411.2" r="4.2" fill="url(#feb)"/><text x="29.5" y="412.8" font-size="4.6" text-anchor="middle" fill="#f4f48a" font-weight="bold">e<tspan dy="-1.5" font-size="3.4">-</tspan></text>
<path d="M57.6,373.7 L49.3,374.6 L48.7,371.7 L43.2,377.4 L50.5,380.7 L49.9,377.7 L58.0,375.5 Z" fill="url(#fr1)"/>
<path d="M102.0,375.1 L111.8,371.6 L113.0,374.4 L117.2,367.6 L109.4,365.9 L110.6,368.7 L101.2,373.3 Z" fill="url(#fr2)"/>
<path d="M35.0,397.8 L36.9,406.3 L33.7,407.3 L40.7,413.0 L43.3,404.4 L40.2,405.3 L37.0,397.2 Z" fill="url(#fr3)"/>
<rect x="28.7" y="412.5" width="103.7" height="16.7" fill="url(#febt)"/>
<rect x="28.7" y="429" width="103.7" height="10.599999999999977" fill="#a3e64b"/>
<rect x="28.7" y="439.4" width="103.7" height="9.800000000000022" fill="#1b9cec"/>
<rect x="28.7" y="449" width="103.7" height="11.2" fill="#2f2f2f"/>
<g filter="url(#fpb)">
<circle cx="56" cy="404.5" r="9" fill="#3c66b0"/>
<circle cx="66.5" cy="402.5" r="8.5" fill="#3c66b0"/>
<circle cx="72" cy="410.5" r="7.5" fill="#3c66b0"/>
<circle cx="61" cy="414.5" r="11" fill="#3c66b0"/>
<circle cx="68" cy="421" r="8" fill="#3c66b0"/>
<circle cx="53.5" cy="418.5" r="6" fill="#3c66b0"/>
<circle cx="75" cy="402" r="3.5" fill="#3c66b0"/>
<circle cx="48.5" cy="408.5" r="4.5" fill="#3c66b0"/>
<circle cx="60" cy="426.5" r="4.5" fill="#3c66b0"/>
<circle cx="63" cy="396.5" r="3.5" fill="#3c66b0"/>
<circle cx="58.0" cy="412.5" r="3.1" fill="#2a488a"/>
<circle cx="63.3" cy="396.6" r="2.9" fill="#6a97d8"/>
<circle cx="60.4" cy="430.5" r="2.3" fill="#4c79c2"/>
<circle cx="45.5" cy="410.8" r="1.9" fill="#5585cc"/>
<circle cx="59.6" cy="426.8" r="2.8" fill="#5585cc"/>
<circle cx="65.7" cy="397.2" r="2.9" fill="#6a97d8"/>
<circle cx="45.3" cy="406.3" r="2.2" fill="#7585c8"/>
<circle cx="74.7" cy="399.6" r="3.1" fill="#5585cc"/>
<circle cx="55.1" cy="419.6" r="1.9" fill="#7585c8"/>
<circle cx="62.2" cy="424.1" r="2.5" fill="#4c79c2"/>
<circle cx="61.7" cy="397.3" r="2.1" fill="#355ea8"/>
<circle cx="73.9" cy="420.7" r="1.8" fill="#3f6ab4"/>
<circle cx="62.5" cy="424.8" r="2.7" fill="#2d4f94"/>
<circle cx="62.9" cy="397.6" r="2.3" fill="#2a488a"/>
<circle cx="65.4" cy="404.1" r="3.0" fill="#355ea8"/>
<circle cx="63.8" cy="423.1" r="1.7" fill="#355ea8"/>
<circle cx="74.6" cy="400.2" r="3.0" fill="#6a97d8"/>
<circle cx="60.1" cy="427.3" r="1.5" fill="#4673be"/>
<circle cx="60.0" cy="395.8" r="3.2" fill="#6a97d8"/>
<circle cx="62.8" cy="399.1" r="3.2" fill="#3f6ab4"/>
<circle cx="52.2" cy="420.0" r="3.0" fill="#7585c8"/>
<circle cx="50.2" cy="406.7" r="3.0" fill="#4c79c2"/>
<circle cx="61.1" cy="397.4" r="2.4" fill="#7585c8"/>
<circle cx="67.0" cy="412.0" r="1.9" fill="#6a97d8"/>
<circle cx="58.1" cy="429.5" r="3.2" fill="#3f6ab4"/>
<circle cx="51.6" cy="408.9" r="1.7" fill="#3f6ab4"/>
<circle cx="46.2" cy="411.6" r="2.5" fill="#6a97d8"/>
<circle cx="49.5" cy="408.6" r="2.6" fill="#3f6ab4"/>
<circle cx="65.3" cy="418.2" r="2.5" fill="#5585cc"/>
<circle cx="55.4" cy="422.8" r="2.9" fill="#6a97d8"/>
<circle cx="68.5" cy="418.7" r="2.9" fill="#5585cc"/>
<circle cx="62.2" cy="421.0" r="2.0" fill="#3f6ab4"/>
<circle cx="69.6" cy="405.6" r="1.7" fill="#3f6ab4"/>
<circle cx="52.3" cy="416.2" r="2.9" fill="#5585cc"/>
<circle cx="63.3" cy="407.8" r="3.0" fill="#2a488a"/>
<circle cx="68.4" cy="423.5" r="2.4" fill="#2d4f94"/>
<circle cx="55.2" cy="413.9" r="1.8" fill="#6a97d8"/>
<circle cx="55.0" cy="414.5" r="2.9" fill="#3f6ab4"/>
<circle cx="64.2" cy="397.7" r="2.8" fill="#6a97d8"/>
<circle cx="47.0" cy="410.7" r="2.2" fill="#7585c8"/>
<circle cx="58.8" cy="403.0" r="1.5" fill="#4c79c2"/>
<circle cx="72.1" cy="400.9" r="2.7" fill="#355ea8"/>
<circle cx="50.2" cy="405.7" r="2.4" fill="#6a97d8"/>
<circle cx="59.0" cy="428.1" r="1.6" fill="#6a97d8"/>
<circle cx="67.1" cy="401.0" r="3.0" fill="#4c79c2"/>
<circle cx="68.5" cy="408.8" r="2.5" fill="#355ea8"/>
<circle cx="48.5" cy="406.8" r="2.0" fill="#355ea8"/>
<circle cx="59.1" cy="426.3" r="3.1" fill="#4673be"/>
<circle cx="57.3" cy="422.3" r="2.4" fill="#355ea8"/>
<circle cx="53.8" cy="420.4" r="3.0" fill="#4673be"/>
<circle cx="72.2" cy="414.0" r="3.0" fill="#5585cc"/>
<circle cx="49.9" cy="405.0" r="2.2" fill="#6a97d8"/>
<circle cx="60.2" cy="421.6" r="2.2" fill="#2a488a"/>
<circle cx="53.5" cy="418.3" r="1.6" fill="#5585cc"/>
<circle cx="57.5" cy="406.0" r="3.2" fill="#4673be"/>
<circle cx="57.7" cy="426.5" r="2.0" fill="#3f6ab4"/>
<circle cx="73.5" cy="400.1" r="2.1" fill="#2d4f94"/>
<circle cx="51.8" cy="419.3" r="1.5" fill="#7585c8"/>
<circle cx="65.1" cy="401.9" r="2.3" fill="#4c79c2"/>
<circle cx="74.6" cy="401.5" r="3.0" fill="#355ea8"/>
<circle cx="50.2" cy="415.1" r="2.0" fill="#7585c8"/>
<circle cx="50.4" cy="408.7" r="2.0" fill="#4673be"/>
<circle cx="75.2" cy="403.1" r="1.5" fill="#3f6ab4"/>
<circle cx="57.5" cy="417.7" r="3.0" fill="#4673be"/>
<circle cx="47.1" cy="404.8" r="2.7" fill="#4c79c2"/>
<circle cx="73.7" cy="399.7" r="2.5" fill="#4673be"/>
<circle cx="62.5" cy="394.4" r="1.9" fill="#7585c8"/>
<circle cx="50.0" cy="403.5" r="2.6" fill="#7585c8"/>
<circle cx="73.7" cy="406.9" r="2.9" fill="#355ea8"/>
<circle cx="63.3" cy="396.3" r="3.1" fill="#6a97d8"/>
<circle cx="73.0" cy="404.0" r="2.4" fill="#2d4f94"/>
<circle cx="64.2" cy="401.7" r="2.4" fill="#4c79c2"/>
<circle cx="55.1" cy="416.8" r="1.6" fill="#5585cc"/>
<circle cx="53.1" cy="416.9" r="3.1" fill="#6a97d8"/>
<circle cx="49.3" cy="415.4" r="2.4" fill="#4673be"/>
<circle cx="71.9" cy="402.0" r="2.2" fill="#5585cc"/>
<circle cx="74.0" cy="399.4" r="2.6" fill="#4c79c2"/>
<circle cx="49.9" cy="410.6" r="3.0" fill="#5585cc"/>
<circle cx="61.2" cy="402.6" r="2.7" fill="#2a488a"/>
<circle cx="62.7" cy="395.2" r="2.0" fill="#2d4f94"/>
<circle cx="68.7" cy="408.6" r="1.9" fill="#4c79c2"/>
<circle cx="64.8" cy="415.1" r="2.5" fill="#6a97d8"/>
<circle cx="59.2" cy="419.3" r="2.9" fill="#2d4f94"/>
<circle cx="69.0" cy="409.1" r="2.3" fill="#5585cc"/>
<circle cx="77.2" cy="401.9" r="2.5" fill="#2a488a"/>
<circle cx="64.4" cy="394.0" r="2.4" fill="#2a488a"/>
<circle cx="69.5" cy="398.7" r="2.7" fill="#355ea8"/>
<circle cx="51.7" cy="406.5" r="2.6" fill="#4673be"/>
<circle cx="64.0" cy="410.6" r="1.8" fill="#6a97d8"/>
<circle cx="74.2" cy="415.7" r="3.0" fill="#6a97d8"/>
<circle cx="74.5" cy="407.7" r="2.2" fill="#4673be"/>
<circle cx="72.3" cy="406.3" r="2.0" fill="#3f6ab4"/>
<circle cx="45.6" cy="406.9" r="1.5" fill="#3f6ab4"/>
<circle cx="50.0" cy="420.0" r="1.9" fill="#2a488a"/>
<circle cx="76.3" cy="403.3" r="3.0" fill="#4673be"/>
<circle cx="77.3" cy="403.9" r="3.0" fill="#4673be"/>
<circle cx="62.3" cy="425.6" r="2.8" fill="#2a488a"/>
<circle cx="64.9" cy="416.0" r="3.1" fill="#6a97d8"/>
<circle cx="66.7" cy="395.0" r="2.6" fill="#4c79c2"/>
<circle cx="62.2" cy="428.4" r="2.1" fill="#6a97d8"/>
<circle cx="62.9" cy="394.0" r="2.7" fill="#5585cc"/>
<circle cx="67.5" cy="415.2" r="2.3" fill="#4673be"/>
<circle cx="61.5" cy="428.3" r="2.7" fill="#7585c8"/>
<circle cx="59.5" cy="428.2" r="2.3" fill="#5585cc"/>
<circle cx="69.0" cy="404.5" r="2.4" fill="#7585c8"/>
<circle cx="55.8" cy="420.1" r="1.6" fill="#5585cc"/>
<circle cx="51.8" cy="405.1" r="2.7" fill="#4c79c2"/>
<circle cx="57.2" cy="414.8" r="2.3" fill="#4673be"/>
<circle cx="48.1" cy="418.6" r="1.8" fill="#4673be"/>
<circle cx="59.8" cy="399.6" r="1.7" fill="#2d4f94"/>
</g>
<circle cx="60.9" cy="397.7" r="0.9" fill="#1f3f86" opacity="0.8"/>
<circle cx="61.0" cy="394.9" r="0.9" fill="#223f80" opacity="0.8"/>
<circle cx="60.7" cy="427.8" r="0.9" fill="#8a6ac0" opacity="0.8"/>
<circle cx="73.6" cy="422.1" r="0.9" fill="#6a9ae6" opacity="0.8"/>
<circle cx="50.0" cy="417.3" r="0.8" fill="#223f80" opacity="0.8"/>
<circle cx="72.1" cy="417.8" r="0.5" fill="#1f3f86" opacity="0.8"/>
<circle cx="60.9" cy="408.4" r="0.6" fill="#1f3f86" opacity="0.8"/>
<circle cx="58.9" cy="425.4" r="0.9" fill="#1f3f86" opacity="0.8"/>
<circle cx="58.7" cy="398.1" r="1.0" fill="#7aa4e8" opacity="0.8"/>
<circle cx="62.5" cy="398.7" r="0.6" fill="#6a9ae6" opacity="0.8"/>
<circle cx="65.4" cy="401.4" r="0.7" fill="#1f3f86" opacity="0.8"/>
<circle cx="62.3" cy="427.7" r="1.0" fill="#8a6ac0" opacity="0.8"/>
<circle cx="56.2" cy="415.6" r="0.6" fill="#223f80" opacity="0.8"/>
<circle cx="54.7" cy="398.4" r="0.7" fill="#1f3f86" opacity="0.8"/>
<circle cx="69.4" cy="399.1" r="0.9" fill="#6a9ae6" opacity="0.8"/>
<circle cx="54.3" cy="419.1" r="0.5" fill="#1f3f86" opacity="0.8"/>
<circle cx="68.8" cy="413.1" r="0.5" fill="#6a9ae6" opacity="0.8"/>
<circle cx="58.1" cy="410.6" r="0.7" fill="#6a9ae6" opacity="0.8"/>
<circle cx="49.9" cy="411.6" r="0.9" fill="#8a6ac0" opacity="0.8"/>
<circle cx="50.8" cy="419.4" r="0.7" fill="#7aa4e8" opacity="0.8"/>
<circle cx="60.7" cy="419.8" r="0.9" fill="#223f80" opacity="0.8"/>
<circle cx="61.7" cy="415.6" r="0.8" fill="#223f80" opacity="0.8"/>
<circle cx="70.5" cy="408.8" r="0.8" fill="#6a9ae6" opacity="0.8"/>
<circle cx="49.8" cy="411.5" r="0.7" fill="#8a6ac0" opacity="0.8"/>
<circle cx="77.3" cy="402.5" r="0.6" fill="#7aa4e8" opacity="0.8"/>
<circle cx="72.3" cy="402.1" r="0.9" fill="#1f3f86" opacity="0.8"/>
<circle cx="64.2" cy="404.4" r="0.7" fill="#7aa4e8" opacity="0.8"/>
<circle cx="56.7" cy="416.6" r="0.9" fill="#8a6ac0" opacity="0.8"/>
<circle cx="74.2" cy="420.3" r="0.9" fill="#8a6ac0" opacity="0.8"/>
<circle cx="48.5" cy="410.4" r="0.9" fill="#8a6ac0" opacity="0.8"/>
<circle cx="56.8" cy="420.7" r="1.0" fill="#223f80" opacity="0.8"/>
<circle cx="63.5" cy="396.5" r="0.5" fill="#1f3f86" opacity="0.8"/>
<circle cx="60.8" cy="426.7" r="0.8" fill="#8a6ac0" opacity="0.8"/>
<circle cx="67.2" cy="410.0" r="0.7" fill="#6a9ae6" opacity="0.8"/>
<circle cx="54.3" cy="418.2" r="0.7" fill="#223f80" opacity="0.8"/>
<circle cx="76.3" cy="402.8" r="0.9" fill="#7aa4e8" opacity="0.8"/>
<g filter="url(#fpb)">
<circle cx="100" cy="392.5" r="8.5" fill="#3c66b0"/>
<circle cx="105" cy="400" r="9.5" fill="#3c66b0"/>
<circle cx="97" cy="405" r="10.5" fill="#3c66b0"/>
<circle cx="103" cy="414" r="10" fill="#3c66b0"/>
<circle cx="93" cy="416" r="6.5" fill="#3c66b0"/>
<circle cx="110" cy="409" r="6.5" fill="#3c66b0"/>
<circle cx="98" cy="388" r="4.5" fill="#3c66b0"/>
<circle cx="108" cy="390" r="4.5" fill="#3c66b0"/>
<circle cx="111" cy="419" r="4" fill="#3c66b0"/>
<circle cx="100" cy="422" r="4.5" fill="#3c66b0"/>
<circle cx="89" cy="408" r="4" fill="#3c66b0"/>
<circle cx="113.5" cy="407.8" r="1.6" fill="#4c79c2"/>
<circle cx="103.6" cy="401.5" r="2.4" fill="#355ea8"/>
<circle cx="102.9" cy="400.9" r="1.7" fill="#7585c8"/>
<circle cx="101.2" cy="390.1" r="1.9" fill="#355ea8"/>
<circle cx="99.2" cy="421.5" r="1.9" fill="#4c79c2"/>
<circle cx="96.1" cy="408.5" r="1.7" fill="#6a97d8"/>
<circle cx="111.6" cy="417.6" r="2.5" fill="#2d4f94"/>
<circle cx="114.0" cy="411.8" r="2.5" fill="#2d4f94"/>
<circle cx="106.9" cy="387.6" r="2.0" fill="#2a488a"/>
<circle cx="108.4" cy="414.0" r="2.7" fill="#2d4f94"/>
<circle cx="99.5" cy="397.2" r="3.0" fill="#2a488a"/>
<circle cx="91.8" cy="415.0" r="2.4" fill="#5585cc"/>
<circle cx="112.4" cy="412.3" r="1.6" fill="#4673be"/>
<circle cx="108.0" cy="417.5" r="2.0" fill="#3f6ab4"/>
<circle cx="96.4" cy="422.1" r="1.6" fill="#4673be"/>
<circle cx="88.3" cy="416.8" r="1.6" fill="#6a97d8"/>
<circle cx="86.4" cy="406.6" r="2.3" fill="#7585c8"/>
<circle cx="87.0" cy="410.9" r="2.1" fill="#4673be"/>
<circle cx="111.3" cy="391.3" r="1.7" fill="#2d4f94"/>
<circle cx="95.1" cy="390.4" r="1.6" fill="#2a488a"/>
<circle cx="94.4" cy="386.8" r="2.9" fill="#4c79c2"/>
<circle cx="91.4" cy="410.4" r="2.7" fill="#7585c8"/>
<circle cx="105.2" cy="417.1" r="1.9" fill="#2d4f94"/>
<circle cx="94.2" cy="393.1" r="1.9" fill="#355ea8"/>
<circle cx="92.0" cy="407.8" r="2.5" fill="#5585cc"/>
<circle cx="113.8" cy="418.1" r="2.8" fill="#2a488a"/>
<circle cx="89.7" cy="405.8" r="2.2" fill="#4673be"/>
<circle cx="107.3" cy="389.2" r="1.6" fill="#2d4f94"/>
<circle cx="109.2" cy="392.0" r="1.6" fill="#355ea8"/>
<circle cx="100.7" cy="423.0" r="2.1" fill="#355ea8"/>
<circle cx="109.7" cy="395.2" r="1.8" fill="#6a97d8"/>
<circle cx="106.8" cy="406.6" r="1.7" fill="#2a488a"/>
<circle cx="105.8" cy="390.3" r="1.7" fill="#3f6ab4"/>
<circle cx="88.2" cy="416.7" r="2.4" fill="#2d4f94"/>
<circle cx="109.1" cy="421.3" r="3.1" fill="#4c79c2"/>
<circle cx="98.4" cy="415.3" r="2.7" fill="#6a97d8"/>
<circle cx="110.0" cy="420.1" r="2.8" fill="#4c79c2"/>
<circle cx="111.4" cy="417.0" r="1.9" fill="#2d4f94"/>
<circle cx="106.2" cy="407.0" r="1.9" fill="#4c79c2"/>
<circle cx="107.6" cy="390.5" r="1.5" fill="#6a97d8"/>
<circle cx="107.8" cy="393.4" r="3.1" fill="#2a488a"/>
<circle cx="113.4" cy="408.0" r="1.9" fill="#2d4f94"/>
<circle cx="108.6" cy="391.7" r="2.6" fill="#355ea8"/>
<circle cx="110.0" cy="388.7" r="2.6" fill="#4673be"/>
<circle cx="98.7" cy="384.6" r="2.3" fill="#5585cc"/>
<circle cx="98.6" cy="385.7" r="2.9" fill="#7585c8"/>
<circle cx="104.8" cy="392.3" r="2.7" fill="#5585cc"/>
<circle cx="104.2" cy="406.3" r="2.3" fill="#5585cc"/>
<circle cx="101.9" cy="418.4" r="2.6" fill="#3f6ab4"/>
<circle cx="93.7" cy="404.0" r="1.5" fill="#4673be"/>
<circle cx="111.0" cy="417.7" r="3.2" fill="#2d4f94"/>
<circle cx="107.1" cy="414.7" r="2.4" fill="#3f6ab4"/>
<circle cx="87.9" cy="414.5" r="1.6" fill="#3f6ab4"/>
<circle cx="106.1" cy="386.9" r="2.4" fill="#4c79c2"/>
<circle cx="90.3" cy="403.6" r="1.5" fill="#2a488a"/>
<circle cx="90.5" cy="399.8" r="1.8" fill="#5585cc"/>
<circle cx="107.0" cy="389.0" r="1.6" fill="#4c79c2"/>
<circle cx="108.0" cy="417.9" r="1.7" fill="#4c79c2"/>
<circle cx="100.0" cy="396.5" r="2.8" fill="#4c79c2"/>
<circle cx="104.7" cy="388.7" r="3.1" fill="#2a488a"/>
<circle cx="106.8" cy="406.3" r="2.4" fill="#6a97d8"/>
<circle cx="104.4" cy="389.8" r="2.4" fill="#2d4f94"/>
<circle cx="113.5" cy="416.6" r="1.9" fill="#4c79c2"/>
<circle cx="104.8" cy="411.2" r="1.7" fill="#2a488a"/>
<circle cx="112.6" cy="410.3" r="1.6" fill="#6a97d8"/>
<circle cx="107.7" cy="398.0" r="2.7" fill="#3f6ab4"/>
<circle cx="96.9" cy="408.5" r="2.3" fill="#4673be"/>
<circle cx="99.2" cy="386.9" r="2.6" fill="#2d4f94"/>
<circle cx="94.4" cy="395.9" r="2.2" fill="#7585c8"/>
<circle cx="101.3" cy="416.1" r="2.1" fill="#3f6ab4"/>
<circle cx="108.1" cy="419.8" r="2.2" fill="#4c79c2"/>
<circle cx="98.9" cy="425.8" r="1.7" fill="#2d4f94"/>
<circle cx="108.9" cy="402.2" r="3.0" fill="#5585cc"/>
<circle cx="93.2" cy="410.7" r="2.9" fill="#6a97d8"/>
<circle cx="100.3" cy="391.1" r="2.5" fill="#3f6ab4"/>
<circle cx="103.6" cy="407.5" r="1.8" fill="#4673be"/>
<circle cx="97.3" cy="414.2" r="2.9" fill="#4673be"/>
<circle cx="100.6" cy="421.2" r="3.0" fill="#2a488a"/>
<circle cx="97.0" cy="397.3" r="3.1" fill="#6a97d8"/>
<circle cx="102.0" cy="424.1" r="1.9" fill="#4673be"/>
<circle cx="96.7" cy="409.0" r="3.1" fill="#6a97d8"/>
<circle cx="111.1" cy="417.1" r="2.4" fill="#5585cc"/>
<circle cx="92.5" cy="416.6" r="1.9" fill="#355ea8"/>
<circle cx="99.4" cy="386.9" r="1.8" fill="#2a488a"/>
<circle cx="105.7" cy="412.8" r="2.9" fill="#7585c8"/>
<circle cx="85.7" cy="408.1" r="2.2" fill="#4c79c2"/>
<circle cx="90.8" cy="410.6" r="2.1" fill="#5585cc"/>
<circle cx="102.0" cy="387.7" r="2.9" fill="#355ea8"/>
<circle cx="99.3" cy="394.3" r="2.2" fill="#355ea8"/>
<circle cx="102.3" cy="395.5" r="2.4" fill="#6a97d8"/>
<circle cx="100.1" cy="424.2" r="2.3" fill="#5585cc"/>
<circle cx="90.2" cy="417.0" r="3.1" fill="#4c79c2"/>
<circle cx="110.2" cy="414.7" r="2.0" fill="#3f6ab4"/>
<circle cx="102.8" cy="405.0" r="2.3" fill="#4c79c2"/>
<circle cx="89.8" cy="410.4" r="1.5" fill="#6a97d8"/>
<circle cx="109.1" cy="405.1" r="2.2" fill="#6a97d8"/>
<circle cx="91.8" cy="414.8" r="3.1" fill="#5585cc"/>
<circle cx="91.5" cy="406.0" r="2.5" fill="#3f6ab4"/>
<circle cx="110.0" cy="392.8" r="2.6" fill="#355ea8"/>
<circle cx="108.9" cy="416.8" r="2.9" fill="#5585cc"/>
<circle cx="111.0" cy="416.3" r="2.9" fill="#355ea8"/>
<circle cx="86.1" cy="406.3" r="2.7" fill="#2d4f94"/>
<circle cx="108.1" cy="400.6" r="2.1" fill="#4673be"/>
<circle cx="99.6" cy="385.4" r="2.6" fill="#4c79c2"/>
<circle cx="89.1" cy="409.8" r="2.3" fill="#4673be"/>
<circle cx="111.9" cy="418.3" r="2.4" fill="#2a488a"/>
<circle cx="95.0" cy="411.0" r="1.9" fill="#2d4f94"/>
<circle cx="102.4" cy="405.1" r="2.3" fill="#7585c8"/>
<circle cx="98.0" cy="400.9" r="2.8" fill="#2d4f94"/>
<circle cx="101.0" cy="397.1" r="2.6" fill="#6a97d8"/>
</g>
<circle cx="99.6" cy="421.8" r="0.5" fill="#8a6ac0" opacity="0.8"/>
<circle cx="90.2" cy="408.9" r="0.7" fill="#223f80" opacity="0.8"/>
<circle cx="89.5" cy="416.8" r="0.6" fill="#223f80" opacity="0.8"/>
<circle cx="102.1" cy="416.2" r="0.7" fill="#8a6ac0" opacity="0.8"/>
<circle cx="110.3" cy="391.2" r="1.0" fill="#8a6ac0" opacity="0.8"/>
<circle cx="98.9" cy="391.4" r="0.6" fill="#223f80" opacity="0.8"/>
<circle cx="108.5" cy="404.3" r="1.0" fill="#1f3f86" opacity="0.8"/>
<circle cx="101.1" cy="419.7" r="0.9" fill="#8a6ac0" opacity="0.8"/>
<circle cx="95.5" cy="414.1" r="0.7" fill="#1f3f86" opacity="0.8"/>
<circle cx="105.3" cy="390.8" r="0.7" fill="#1f3f86" opacity="0.8"/>
<circle cx="96.9" cy="389.7" r="0.9" fill="#7aa4e8" opacity="0.8"/>
<circle cx="110.0" cy="404.2" r="0.6" fill="#1f3f86" opacity="0.8"/>
<circle cx="103.0" cy="390.4" r="0.7" fill="#6a9ae6" opacity="0.8"/>
<circle cx="100.8" cy="388.0" r="0.7" fill="#6a9ae6" opacity="0.8"/>
<circle cx="94.7" cy="413.8" r="0.5" fill="#8a6ac0" opacity="0.8"/>
<circle cx="90.5" cy="407.4" r="0.6" fill="#223f80" opacity="0.8"/>
<circle cx="111.2" cy="412.0" r="1.0" fill="#7aa4e8" opacity="0.8"/>
<circle cx="86.6" cy="409.8" r="0.8" fill="#1f3f86" opacity="0.8"/>
<circle cx="111.2" cy="402.0" r="0.7" fill="#1f3f86" opacity="0.8"/>
<circle cx="90.5" cy="406.4" r="1.0" fill="#223f80" opacity="0.8"/>
<circle cx="99.6" cy="409.8" r="0.6" fill="#8a6ac0" opacity="0.8"/>
<circle cx="88.8" cy="410.6" r="0.7" fill="#223f80" opacity="0.8"/>
<circle cx="88.0" cy="408.8" r="0.6" fill="#1f3f86" opacity="0.8"/>
<circle cx="112.9" cy="417.7" r="0.6" fill="#8a6ac0" opacity="0.8"/>
<circle cx="105.6" cy="391.2" r="0.6" fill="#1f3f86" opacity="0.8"/>
<circle cx="107.2" cy="408.0" r="0.7" fill="#223f80" opacity="0.8"/>
<circle cx="108.3" cy="409.5" r="0.7" fill="#6a9ae6" opacity="0.8"/>
<circle cx="111.4" cy="420.6" r="0.9" fill="#6a9ae6" opacity="0.8"/>
<circle cx="90.2" cy="414.6" r="0.8" fill="#223f80" opacity="0.8"/>
<circle cx="89.7" cy="405.1" r="0.5" fill="#1f3f86" opacity="0.8"/>
<circle cx="96.1" cy="389.4" r="1.0" fill="#7aa4e8" opacity="0.8"/>
<circle cx="103.9" cy="406.4" r="0.9" fill="#6a9ae6" opacity="0.8"/>
<circle cx="99.0" cy="422.1" r="1.0" fill="#223f80" opacity="0.8"/>
<circle cx="109.8" cy="389.7" r="0.6" fill="#1f3f86" opacity="0.8"/>
<circle cx="90.1" cy="404.0" r="1.0" fill="#6a9ae6" opacity="0.8"/>
<circle cx="103.6" cy="399.5" r="0.9" fill="#1f3f86" opacity="0.8"/>
<text x="31.2" y="425.6" font-size="10.2" text-anchor="start" fill="#000" font-weight="bold" >EBT</text>
<text x="31.2" y="437.3" font-size="10.2" text-anchor="start" fill="#000" font-weight="bold" >4-ATP</text>
<text x="31.2" y="447" font-size="10.2" text-anchor="start" fill="#fff" font-weight="bold" >PEDOT</text>
<text x="31.2" y="458.4" font-size="10.2" text-anchor="start" fill="#fff" font-weight="bold" >SPE</text>
<text x="104" y="412.5" font-size="9.6" text-anchor="middle" fill="#fff" font-weight="bold" >IL-1&#946;</text>
<path d="M66.6,464 L76.4,464 L76.4,486 L80.6,486 L71.5,496.6 L62.4,486 L66.6,486 Z" fill="url(#fdn)"/>
<path d="M90.2,463.4 L99.2,474 L95,474 L95,493 L85.4,493 L85.4,474 L81.2,474 Z" fill="url(#fup)"/>
<text x="13.5" y="486.3" font-size="10.3" text-anchor="start" fill="#ee1c1c" font-weight="bold" >Extraction</text>
<text x="100.5" y="486.3" font-size="10.3" text-anchor="start" fill="#ee1c1c" font-weight="bold" >Rebinding</text>
<text x="26.4" y="523.6" font-size="10.3" text-anchor="start" fill="#000" font-weight="bold" >Fe[(CN)<tspan dy="2" font-size="6.5">6</tspan><tspan dy="-2">]</tspan><tspan dy="-4" font-size="6.5">3-</tspan></text>
<text x="90" y="523.6" font-size="10.3" text-anchor="start" fill="#000" font-weight="bold" >Fe[(CN)<tspan dy="2" font-size="6.5">6</tspan><tspan dy="-2">]</tspan><tspan dy="-4" font-size="6.5">4-</tspan></text>
<path d="M66,514.5 Q81,497.5 94,510.5" fill="none" stroke="#22b2f2" stroke-width="1.3"/><path d="M96.6,513 L91,511 L95,507.2 Z" fill="#22b2f2"/>
<path d="M96,527.5 Q81.5,543.5 68.2,531.5" fill="none" stroke="#22b2f2" stroke-width="1.3"/><path d="M65.8,529 L71.4,530.6 L67.8,534.6 Z" fill="#22b2f2"/>
<rect x="28.5" y="560.5" width="102.0" height="14.7" fill="url(#febt)"/>
<rect x="28.5" y="575" width="102.0" height="10.2" fill="#a3e64b"/>
<rect x="28.5" y="585" width="102.0" height="12.499999999999954" fill="#1b9cec"/>
<rect x="28.5" y="597.3" width="102.0" height="11.10000000000009" fill="#2f2f2f"/>
<text x="31.0" y="572.2" font-size="10.2" text-anchor="start" fill="#000" font-weight="bold" >EBT</text>
<text x="31.0" y="583.7" font-size="10.2" text-anchor="start" fill="#000" font-weight="bold" >4-ATP</text>
<text x="31.0" y="595" font-size="10.2" text-anchor="start" fill="#fff" font-weight="bold" >PEDOT</text>
<text x="31.0" y="606.8" font-size="10.2" text-anchor="start" fill="#fff" font-weight="bold" >SPE</text>
<path d="M43,560.5 L86,560.5 L80,566 Q70.5,576 64.5,571 Q56.5,577 50,567 Z" fill="#d6d6da" opacity="0.85"/>
<path d="M62.6,565.3 L65.2,565.1" stroke="#888" stroke-width="0.55"/>
<path d="M52.2,563.4 L53.0,564.9" stroke="#666" stroke-width="0.55"/>
<path d="M62.4,561.1 L62.6,563.1" stroke="#666" stroke-width="0.55"/>
<path d="M68.2,563.2 L67.9,564.4" stroke="#888" stroke-width="0.55"/>
<path d="M69.3,568.4 L66.7,566.1" stroke="#888" stroke-width="0.55"/>
<path d="M68.4,567.8 L67.3,568.3" stroke="#888" stroke-width="0.55"/>
<path d="M65.2,566.5 L65.2,567.3" stroke="#999" stroke-width="0.55"/>
<path d="M70.5,563.1 L70.8,565.2" stroke="#666" stroke-width="0.55"/>
<path d="M72.6,562.1 L71.0,561.1" stroke="#666" stroke-width="0.55"/>
<path d="M67.0,560.9 L64.6,559.9" stroke="#666" stroke-width="0.55"/>
<path d="M82.4,565.2 L79.4,563.7" stroke="#666" stroke-width="0.55"/>
<path d="M63.3,571.8 L62.7,569.6" stroke="#888" stroke-width="0.55"/>
<path d="M75.4,561.7 L72.9,560.8" stroke="#999" stroke-width="0.55"/>
<path d="M74.6,560.8 L73.0,558.9" stroke="#666" stroke-width="0.55"/>
<path d="M63.1,564.4 L64.2,562.9" stroke="#888" stroke-width="0.55"/>
<path d="M83.4,564.3 L82.9,563.7" stroke="#999" stroke-width="0.55"/>
<path d="M61.4,561.6 L60.0,563.9" stroke="#444" stroke-width="0.55"/>
<path d="M83.9,560.5 L82.0,563.0" stroke="#666" stroke-width="0.55"/>
<path d="M46.6,560.8 L46.3,558.4" stroke="#444" stroke-width="0.55"/>
<path d="M77.4,562.3 L74.8,560.9" stroke="#888" stroke-width="0.55"/>
<path d="M45.6,561.8 L46.3,559.9" stroke="#999" stroke-width="0.55"/>
<path d="M77.5,560.9 L76.8,561.5" stroke="#444" stroke-width="0.55"/>
<path d="M80.4,565.4 L78.9,563.9" stroke="#888" stroke-width="0.55"/>
<path d="M71.8,562.8 L71.7,560.7" stroke="#666" stroke-width="0.55"/>
<path d="M49.0,560.6 L51.8,559.2" stroke="#999" stroke-width="0.55"/>
<path d="M55.0,567.1 L55.6,566.1" stroke="#888" stroke-width="0.55"/>
<path d="M81.2,566.7 L79.0,566.6" stroke="#666" stroke-width="0.55"/>
<path d="M55.9,568.5 L54.2,566.1" stroke="#444" stroke-width="0.55"/>
<path d="M61.0,561.8 L58.3,560.8" stroke="#888" stroke-width="0.55"/>
<path d="M48.6,560.8 L48.3,560.0" stroke="#888" stroke-width="0.55"/>
<path d="M68.0,570.1 L67.9,569.4" stroke="#444" stroke-width="0.55"/>
<path d="M82.5,560.5 L83.4,560.4" stroke="#444" stroke-width="0.55"/>
<path d="M57.4,570.1 L54.9,570.4" stroke="#666" stroke-width="0.55"/>
<path d="M80.1,564.8 L81.3,566.3" stroke="#444" stroke-width="0.55"/>
<path d="M58.7,566.2 L61.1,568.1" stroke="#999" stroke-width="0.55"/>
<path d="M81.8,560.5 L81.8,558.1" stroke="#999" stroke-width="0.55"/>
<path d="M59.8,560.5 L57.2,558.5" stroke="#666" stroke-width="0.55"/>
<path d="M83.7,565.1 L85.1,564.5" stroke="#999" stroke-width="0.55"/>
<path d="M62.2,569.1 L59.7,570.4" stroke="#666" stroke-width="0.55"/>
<path d="M57.1,560.7 L54.2,563.0" stroke="#666" stroke-width="0.55"/>
<path d="M64.4,566.3 L66.9,565.0" stroke="#666" stroke-width="0.55"/>
<path d="M59.4,561.1 L60.0,561.1" stroke="#444" stroke-width="0.55"/>
<path d="M70.7,563.4 L73.1,562.5" stroke="#444" stroke-width="0.55"/>
<path d="M52.7,562.8 L54.6,564.9" stroke="#888" stroke-width="0.55"/>
<path d="M60.0,565.2 L58.9,563.4" stroke="#999" stroke-width="0.55"/>
<path d="M58.7,569.0 L55.9,566.8" stroke="#444" stroke-width="0.55"/>
<path d="M77.1,560.8 L76.9,562.9" stroke="#999" stroke-width="0.55"/>
<path d="M59.9,564.4 L61.0,565.5" stroke="#999" stroke-width="0.55"/>
<path d="M57.5,567.8 L56.2,568.3" stroke="#444" stroke-width="0.55"/>
<path d="M67.3,562.4 L69.0,560.0" stroke="#888" stroke-width="0.55"/>
<path d="M60.8,561.4 L62.4,560.2" stroke="#888" stroke-width="0.55"/>
<path d="M76.1,568.4 L73.8,566.5" stroke="#444" stroke-width="0.55"/>
<path d="M82.4,563.9 L80.6,563.8" stroke="#888" stroke-width="0.55"/>
<path d="M72.9,566.5 L73.1,564.2" stroke="#888" stroke-width="0.55"/>
<path d="M55.6,562.3 L56.8,562.4" stroke="#888" stroke-width="0.55"/>
<path d="M60.3,568.0 L62.8,565.9" stroke="#999" stroke-width="0.55"/>
<path d="M50.1,562.7 L50.8,564.7" stroke="#999" stroke-width="0.55"/>
<path d="M66.5,566.5 L66.5,568.1" stroke="#444" stroke-width="0.55"/>
<path d="M63.1,566.6 L61.3,567.7" stroke="#666" stroke-width="0.55"/>
<path d="M53.3,567.5 L56.2,569.9" stroke="#444" stroke-width="0.55"/>
<path d="M88,560.5 L124,560.5 L118,566 Q112.0,576 106.0,571 Q98.0,577 95,567 Z" fill="#d6d6da" opacity="0.85"/>
<path d="M98.4,565.9 L95.5,566.0" stroke="#666" stroke-width="0.55"/>
<path d="M104.1,565.1 L105.7,565.0" stroke="#666" stroke-width="0.55"/>
<path d="M97.0,567.3 L96.6,565.0" stroke="#444" stroke-width="0.55"/>
<path d="M112.0,568.9 L111.8,571.4" stroke="#999" stroke-width="0.55"/>
<path d="M120.3,562.7 L123.0,560.6" stroke="#888" stroke-width="0.55"/>
<path d="M104.1,565.2 L106.0,565.5" stroke="#888" stroke-width="0.55"/>
<path d="M106.7,569.6 L107.1,568.6" stroke="#999" stroke-width="0.55"/>
<path d="M120.6,565.5 L121.2,564.5" stroke="#888" stroke-width="0.55"/>
<path d="M121.0,562.8 L121.4,561.3" stroke="#666" stroke-width="0.55"/>
<path d="M106.1,566.1 L103.3,568.5" stroke="#999" stroke-width="0.55"/>
<path d="M107.4,571.8 L105.1,569.7" stroke="#888" stroke-width="0.55"/>
<path d="M92.1,563.0 L91.6,565.3" stroke="#999" stroke-width="0.55"/>
<path d="M98.6,563.4 L96.4,563.1" stroke="#999" stroke-width="0.55"/>
<path d="M106.8,560.9 L106.3,558.6" stroke="#444" stroke-width="0.55"/>
<path d="M94.1,565.5 L91.3,564.0" stroke="#888" stroke-width="0.55"/>
<path d="M90.4,561.4 L91.7,560.1" stroke="#999" stroke-width="0.55"/>
<path d="M93.4,564.8 L91.1,564.9" stroke="#444" stroke-width="0.55"/>
<path d="M113.0,565.9 L115.2,563.5" stroke="#999" stroke-width="0.55"/>
<path d="M116.4,564.3 L116.6,566.1" stroke="#888" stroke-width="0.55"/>
<path d="M106.9,569.6 L107.6,571.4" stroke="#888" stroke-width="0.55"/>
<path d="M119.3,563.8 L118.4,562.2" stroke="#444" stroke-width="0.55"/>
<path d="M118.5,561.1 L120.2,559.6" stroke="#666" stroke-width="0.55"/>
<path d="M94.3,561.4 L95.6,560.2" stroke="#666" stroke-width="0.55"/>
<path d="M103.9,570.7 L104.2,571.7" stroke="#888" stroke-width="0.55"/>
<path d="M102.9,566.6 L100.0,565.1" stroke="#444" stroke-width="0.55"/>
<path d="M119.2,566.9 L116.9,566.9" stroke="#444" stroke-width="0.55"/>
<path d="M106.1,567.3 L104.2,565.1" stroke="#666" stroke-width="0.55"/>
<path d="M90.8,564.4 L91.5,566.5" stroke="#999" stroke-width="0.55"/>
<path d="M94.7,561.1 L92.9,562.8" stroke="#444" stroke-width="0.55"/>
<path d="M119.7,560.7 L117.0,562.9" stroke="#999" stroke-width="0.55"/>
<path d="M92.5,560.7 L91.8,560.3" stroke="#444" stroke-width="0.55"/>
<path d="M103.8,565.7 L100.8,566.7" stroke="#888" stroke-width="0.55"/>
<path d="M95.8,562.9 L97.2,562.4" stroke="#888" stroke-width="0.55"/>
<path d="M109.4,560.8 L111.1,559.9" stroke="#666" stroke-width="0.55"/>
<path d="M115.7,565.3 L117.8,566.0" stroke="#999" stroke-width="0.55"/>
<path d="M108.2,561.4 L108.7,560.6" stroke="#444" stroke-width="0.55"/>
<path d="M98.9,560.9 L100.4,559.2" stroke="#999" stroke-width="0.55"/>
<path d="M94.3,561.9 L94.5,561.2" stroke="#999" stroke-width="0.55"/>
<path d="M114.5,562.7 L115.8,560.6" stroke="#444" stroke-width="0.55"/>
<path d="M99.7,560.8 L102.0,563.3" stroke="#666" stroke-width="0.55"/>
<path d="M97.4,568.4 L98.4,567.6" stroke="#999" stroke-width="0.55"/>
<path d="M108.2,564.8 L107.6,567.3" stroke="#888" stroke-width="0.55"/>
<path d="M112.4,566.8 L115.3,564.4" stroke="#666" stroke-width="0.55"/>
<path d="M113.6,561.7 L113.1,559.4" stroke="#888" stroke-width="0.55"/>
<path d="M110.7,560.5 L109.3,559.4" stroke="#444" stroke-width="0.55"/>
<path d="M107.6,564.6 L110.4,565.0" stroke="#666" stroke-width="0.55"/>
<path d="M110.4,568.0 L107.9,568.4" stroke="#666" stroke-width="0.55"/>
<path d="M102.4,570.1 L101.7,572.4" stroke="#999" stroke-width="0.55"/>
<path d="M107.3,565.8 L106.9,565.8" stroke="#444" stroke-width="0.55"/>
<path d="M106.9,565.9 L106.0,564.8" stroke="#444" stroke-width="0.55"/>
<path d="M107.9,562.2 L109.2,561.2" stroke="#666" stroke-width="0.55"/>
<path d="M114.7,564.3 L115.5,563.9" stroke="#999" stroke-width="0.55"/>
<path d="M91.7,561.6 L91.1,562.0" stroke="#444" stroke-width="0.55"/>
<path d="M92.4,566.1 L91.9,566.0" stroke="#888" stroke-width="0.55"/>
<path d="M91.5,560.7 L93.3,562.7" stroke="#888" stroke-width="0.55"/>
<path d="M121.3,564.8 L121.9,562.9" stroke="#999" stroke-width="0.55"/>
<path d="M104.6,561.6 L101.9,561.7" stroke="#666" stroke-width="0.55"/>
<path d="M101.6,561.0 L101.1,561.5" stroke="#999" stroke-width="0.55"/>
<path d="M101.6,567.1 L103.5,565.3" stroke="#444" stroke-width="0.55"/>
<path d="M113.5,561.5 L111.2,563.5" stroke="#444" stroke-width="0.55"/>
<text x="26.4" y="551.7" font-size="10.3" text-anchor="start" fill="#000" font-weight="bold" >Cavity</text>
<path d="M46.8,555.5 L50,560" stroke="#000" stroke-width="1"/><path d="M51.6,562.4 L47.6,560.4 L50.8,558 Z" fill="#000"/>
<path d="M63.9,556.8 L64.2,566.2 L60.9,566.7 L68.8,574.0 L73.9,564.5 L70.6,565.1 L67.7,556.2 Z" fill="url(#fr4)"/>
<path d="M93.9,556.8 L94.2,567.1 L90.9,567.7 L98.8,575.0 L104.0,565.6 L100.6,566.1 L97.7,556.2 Z" fill="url(#fr5)"/>
<circle cx="81" cy="530" r="4.2" fill="url(#feb)"/><text x="80.7" y="531.6" font-size="4.6" text-anchor="middle" fill="#f4f48a" font-weight="bold">e<tspan dy="-1.5" font-size="3.4">-</tspan></text>
<circle cx="52.3" cy="534.5" r="4.2" fill="url(#feb)"/><text x="52.0" y="536.1" font-size="4.6" text-anchor="middle" fill="#f4f48a" font-weight="bold">e<tspan dy="-1.5" font-size="3.4">-</tspan></text>
<circle cx="111" cy="541.4" r="4.2" fill="url(#feb)"/><text x="110.7" y="543.0" font-size="4.6" text-anchor="middle" fill="#f4f48a" font-weight="bold">e<tspan dy="-1.5" font-size="3.4">-</tspan></text>
<circle cx="67.3" cy="553.6" r="4.2" fill="url(#feb)"/><text x="67.0" y="555.2" font-size="4.6" text-anchor="middle" fill="#f4f48a" font-weight="bold">e<tspan dy="-1.5" font-size="3.4">-</tspan></text>
<circle cx="96" cy="553" r="4.2" fill="url(#feb)"/><text x="95.7" y="554.6" font-size="4.6" text-anchor="middle" fill="#f4f48a" font-weight="bold">e<tspan dy="-1.5" font-size="3.4">-</tspan></text>
<circle cx="115.8" cy="568" r="4.2" fill="url(#feb)"/><text x="115.5" y="569.6" font-size="4.6" text-anchor="middle" fill="#f4f48a" font-weight="bold">e<tspan dy="-1.5" font-size="3.4">-</tspan></text>
<circle cx="66" cy="577.6" r="4.2" fill="url(#feb)"/><text x="65.7" y="579.2" font-size="4.6" text-anchor="middle" fill="#f4f48a" font-weight="bold">e<tspan dy="-1.5" font-size="3.4">-</tspan></text>
<circle cx="106" cy="577.6" r="4.2" fill="url(#feb)"/><text x="105.7" y="579.2" font-size="4.6" text-anchor="middle" fill="#f4f48a" font-weight="bold">e<tspan dy="-1.5" font-size="3.4">-</tspan></text>
<path d="M109,562 Q110,548.5 123.5,546.5 L123,542 L134,548.8 L125,557.2 L124.4,552.8 Q115,553.5 109,562 Z" fill="url(#fpur)"/>
<g filter="url(#fpb)">
<circle cx="146.5" cy="549" r="9.5" fill="#3c66b0"/>
<circle cx="153" cy="543.5" r="6" fill="#3c66b0"/>
<circle cx="140" cy="554.5" r="6" fill="#3c66b0"/>
<circle cx="153" cy="555.5" r="5.5" fill="#3c66b0"/>
<circle cx="139.5" cy="543" r="5.5" fill="#3c66b0"/>
<circle cx="146" cy="538.5" r="3.6" fill="#3c66b0"/>
<circle cx="158.5" cy="549" r="4.2" fill="#3c66b0"/>
<circle cx="134" cy="549" r="4" fill="#3c66b0"/>
<circle cx="147" cy="559" r="3.6" fill="#3c66b0"/>
<circle cx="139.3" cy="538.6" r="2.7" fill="#4c79c2"/>
<circle cx="150.5" cy="542.6" r="1.7" fill="#355ea8"/>
<circle cx="142.8" cy="556.9" r="1.7" fill="#4c79c2"/>
<circle cx="152.4" cy="543.2" r="1.6" fill="#6a97d8"/>
<circle cx="144.1" cy="552.1" r="1.5" fill="#4673be"/>
<circle cx="137.3" cy="552.1" r="1.5" fill="#355ea8"/>
<circle cx="153.7" cy="550.7" r="1.5" fill="#5585cc"/>
<circle cx="138.6" cy="545.0" r="2.6" fill="#2d4f94"/>
<circle cx="144.2" cy="552.9" r="2.7" fill="#7585c8"/>
<circle cx="142.7" cy="543.4" r="2.7" fill="#6a97d8"/>
<circle cx="150.6" cy="547.8" r="2.2" fill="#3f6ab4"/>
<circle cx="151.2" cy="548.0" r="2.0" fill="#3f6ab4"/>
<circle cx="135.5" cy="555.0" r="1.4" fill="#355ea8"/>
<circle cx="146.2" cy="538.1" r="2.5" fill="#3f6ab4"/>
<circle cx="158.2" cy="548.8" r="1.4" fill="#5585cc"/>
<circle cx="154.8" cy="557.2" r="2.5" fill="#2a488a"/>
<circle cx="142.9" cy="538.3" r="1.7" fill="#2a488a"/>
<circle cx="149.0" cy="540.9" r="1.9" fill="#6a97d8"/>
<circle cx="138.8" cy="552.5" r="1.6" fill="#4c79c2"/>
<circle cx="147.6" cy="537.6" r="2.7" fill="#4c79c2"/>
<circle cx="151.8" cy="546.3" r="1.6" fill="#4673be"/>
<circle cx="139.5" cy="551.5" r="2.0" fill="#355ea8"/>
<circle cx="156.9" cy="543.2" r="1.9" fill="#2d4f94"/>
<circle cx="147.0" cy="536.6" r="1.9" fill="#355ea8"/>
<circle cx="148.1" cy="544.3" r="1.6" fill="#5585cc"/>
<circle cx="160.5" cy="550.5" r="1.5" fill="#7585c8"/>
<circle cx="142.5" cy="546.7" r="2.2" fill="#5585cc"/>
<circle cx="144.8" cy="559.7" r="2.4" fill="#2a488a"/>
<circle cx="138.7" cy="546.0" r="1.5" fill="#7585c8"/>
<circle cx="149.5" cy="558.4" r="2.0" fill="#3f6ab4"/>
<circle cx="142.4" cy="556.0" r="2.5" fill="#4c79c2"/>
<circle cx="148.7" cy="539.6" r="1.8" fill="#355ea8"/>
<circle cx="136.8" cy="546.1" r="1.7" fill="#2a488a"/>
<circle cx="140.0" cy="538.9" r="1.7" fill="#3f6ab4"/>
<circle cx="139.5" cy="554.2" r="2.1" fill="#6a97d8"/>
<circle cx="145.0" cy="536.6" r="2.5" fill="#3f6ab4"/>
<circle cx="145.7" cy="540.4" r="2.7" fill="#7585c8"/>
<circle cx="147.2" cy="537.9" r="2.6" fill="#2a488a"/>
<circle cx="148.2" cy="537.9" r="2.1" fill="#5585cc"/>
<circle cx="155.5" cy="551.4" r="2.0" fill="#4673be"/>
<circle cx="160.1" cy="551.9" r="2.2" fill="#7585c8"/>
<circle cx="136.4" cy="539.9" r="2.3" fill="#355ea8"/>
<circle cx="154.8" cy="558.3" r="2.3" fill="#2d4f94"/>
<circle cx="139.2" cy="553.7" r="2.0" fill="#2d4f94"/>
<circle cx="141.9" cy="555.2" r="1.8" fill="#5585cc"/>
<circle cx="134.2" cy="549.6" r="2.0" fill="#7585c8"/>
<circle cx="150.8" cy="542.1" r="2.7" fill="#355ea8"/>
<circle cx="144.6" cy="539.5" r="1.9" fill="#4673be"/>
<circle cx="146.6" cy="559.4" r="2.2" fill="#4673be"/>
<circle cx="136.7" cy="542.2" r="2.2" fill="#3f6ab4"/>
<circle cx="135.7" cy="556.9" r="2.3" fill="#3f6ab4"/>
<circle cx="135.7" cy="551.2" r="2.1" fill="#2d4f94"/>
<circle cx="137.5" cy="552.5" r="2.6" fill="#355ea8"/>
<circle cx="160.7" cy="550.8" r="2.2" fill="#5585cc"/>
<circle cx="143.9" cy="536.3" r="1.9" fill="#7585c8"/>
<circle cx="149.6" cy="555.6" r="2.4" fill="#7585c8"/>
<circle cx="137.7" cy="552.9" r="2.8" fill="#2a488a"/>
<circle cx="137.1" cy="544.4" r="2.8" fill="#2a488a"/>
<circle cx="140.0" cy="543.6" r="2.3" fill="#2a488a"/>
<circle cx="151.8" cy="559.7" r="2.5" fill="#355ea8"/>
<circle cx="132.2" cy="548.6" r="2.7" fill="#355ea8"/>
<circle cx="148.5" cy="555.8" r="2.4" fill="#6a97d8"/>
<circle cx="134.6" cy="543.2" r="2.1" fill="#4673be"/>
<circle cx="146.8" cy="544.3" r="2.1" fill="#3f6ab4"/>
<circle cx="139.4" cy="542.2" r="1.8" fill="#5585cc"/>
<circle cx="152.9" cy="549.1" r="2.3" fill="#4673be"/>
<circle cx="147.8" cy="561.0" r="2.5" fill="#2a488a"/>
<circle cx="155.4" cy="549.5" r="2.4" fill="#6a97d8"/>
<circle cx="134.4" cy="548.2" r="2.6" fill="#7585c8"/>
<circle cx="137.5" cy="540.3" r="1.8" fill="#5585cc"/>
</g>
<circle cx="133.0" cy="546.2" r="1.0" fill="#223f80" opacity="0.8"/>
<circle cx="136.8" cy="556.1" r="0.5" fill="#1f3f86" opacity="0.8"/>
<circle cx="141.2" cy="539.5" r="0.8" fill="#7aa4e8" opacity="0.8"/>
<circle cx="145.5" cy="535.7" r="1.0" fill="#6a9ae6" opacity="0.8"/>
<circle cx="148.4" cy="550.9" r="0.8" fill="#7aa4e8" opacity="0.8"/>
<circle cx="144.0" cy="554.3" r="0.7" fill="#1f3f86" opacity="0.8"/>
<circle cx="138.3" cy="555.5" r="0.8" fill="#7aa4e8" opacity="0.8"/>
<circle cx="148.4" cy="560.1" r="0.5" fill="#7aa4e8" opacity="0.8"/>
<circle cx="152.8" cy="539.0" r="0.6" fill="#6a9ae6" opacity="0.8"/>
<circle cx="151.5" cy="546.9" r="0.7" fill="#8a6ac0" opacity="0.8"/>
<circle cx="149.2" cy="552.1" r="0.8" fill="#223f80" opacity="0.8"/>
<circle cx="142.3" cy="541.3" r="0.8" fill="#8a6ac0" opacity="0.8"/>
<circle cx="150.7" cy="542.7" r="0.9" fill="#223f80" opacity="0.8"/>
<circle cx="141.6" cy="550.3" r="0.7" fill="#6a9ae6" opacity="0.8"/>
<circle cx="140.4" cy="555.0" r="0.7" fill="#223f80" opacity="0.8"/>
<circle cx="148.8" cy="550.5" r="0.8" fill="#1f3f86" opacity="0.8"/>
<circle cx="160.2" cy="547.4" r="0.7" fill="#223f80" opacity="0.8"/>
<circle cx="142.0" cy="547.8" r="0.9" fill="#6a9ae6" opacity="0.8"/>
<circle cx="153.0" cy="554.2" r="1.0" fill="#6a9ae6" opacity="0.8"/>
<circle cx="155.2" cy="558.2" r="0.7" fill="#1f3f86" opacity="0.8"/>
<circle cx="137.8" cy="546.0" r="0.7" fill="#6a9ae6" opacity="0.8"/>
<circle cx="160.5" cy="551.3" r="0.8" fill="#6a9ae6" opacity="0.8"/>
<circle cx="143.8" cy="538.3" r="0.8" fill="#1f3f86" opacity="0.8"/>
<text x="147" y="551" font-size="8.2" text-anchor="middle" fill="#fff" font-weight="bold" >IL-1&#946;</text></g>
<g id="pg"><rect x="202.2" y="345.5" width="143.5" height="106.0" fill="#fff" stroke="#000" stroke-width="1.2"/>
<clipPath id="cg"><rect x="202.2" y="345.5" width="143.5" height="106.0"/></clipPath>
<line x1="199.39999999999998" y1="353.8" x2="202.2" y2="353.8" stroke="#000" stroke-width="1.2"/>
<text x="197.79999999999998" y="357.1" font-size="9.2" text-anchor="end" fill="#000" font-weight="bold" >-12</text>
<line x1="199.39999999999998" y1="378.1" x2="202.2" y2="378.1" stroke="#000" stroke-width="1.2"/>
<text x="197.79999999999998" y="381.40000000000003" font-size="9.2" text-anchor="end" fill="#000" font-weight="bold" >-9</text>
<line x1="199.39999999999998" y1="402.6" x2="202.2" y2="402.6" stroke="#000" stroke-width="1.2"/>
<text x="197.79999999999998" y="405.90000000000003" font-size="9.2" text-anchor="end" fill="#000" font-weight="bold" >-6</text>
<line x1="199.39999999999998" y1="427.1" x2="202.2" y2="427.1" stroke="#000" stroke-width="1.2"/>
<text x="197.79999999999998" y="430.40000000000003" font-size="9.2" text-anchor="end" fill="#000" font-weight="bold" >-3</text>
<line x1="199.39999999999998" y1="451.2" x2="202.2" y2="451.2" stroke="#000" stroke-width="1.2"/>
<text x="197.79999999999998" y="454.5" font-size="9.2" text-anchor="end" fill="#000" font-weight="bold" >0</text>
<line x1="208.2" y1="451.5" x2="208.2" y2="454.3" stroke="#000" stroke-width="1.2"/>
<text x="208.2" y="461.3" font-size="9.2" text-anchor="middle" fill="#000" font-weight="bold" >0</text>
<line x1="235.9" y1="451.5" x2="235.9" y2="454.3" stroke="#000" stroke-width="1.2"/>
<text x="235.9" y="461.3" font-size="9.2" text-anchor="middle" fill="#000" font-weight="bold" >5</text>
<line x1="263.6" y1="451.5" x2="263.6" y2="454.3" stroke="#000" stroke-width="1.2"/>
<text x="263.6" y="461.3" font-size="9.2" text-anchor="middle" fill="#000" font-weight="bold" >10</text>
<line x1="291.2" y1="451.5" x2="291.2" y2="454.3" stroke="#000" stroke-width="1.2"/>
<text x="291.2" y="461.3" font-size="9.2" text-anchor="middle" fill="#000" font-weight="bold" >15</text>
<line x1="318.6" y1="451.5" x2="318.6" y2="454.3" stroke="#000" stroke-width="1.2"/>
<text x="318.6" y="461.3" font-size="9.2" text-anchor="middle" fill="#000" font-weight="bold" >20</text>
<line x1="345.7" y1="451.5" x2="345.7" y2="454.3" stroke="#000" stroke-width="1.2"/>
<text x="345.7" y="461.3" font-size="9.2" text-anchor="middle" fill="#000" font-weight="bold" >25</text>
<line x1="200.5" y1="366" x2="202.2" y2="366" stroke="#000" stroke-width="1"/>
<line x1="200.5" y1="390.3" x2="202.2" y2="390.3" stroke="#000" stroke-width="1"/>
<line x1="200.5" y1="414.8" x2="202.2" y2="414.8" stroke="#000" stroke-width="1"/>
<line x1="200.5" y1="439.1" x2="202.2" y2="439.1" stroke="#000" stroke-width="1"/>
<line x1="222" y1="451.5" x2="222" y2="453.2" stroke="#000" stroke-width="1"/>
<line x1="249.7" y1="451.5" x2="249.7" y2="453.2" stroke="#000" stroke-width="1"/>
<line x1="277.4" y1="451.5" x2="277.4" y2="453.2" stroke="#000" stroke-width="1"/>
<line x1="304.9" y1="451.5" x2="304.9" y2="453.2" stroke="#000" stroke-width="1"/>
<line x1="332.1" y1="451.5" x2="332.1" y2="453.2" stroke="#000" stroke-width="1"/>
<text x="276" y="473.7" font-size="10.2" text-anchor="middle" fill="#000" font-weight="bold" >Z' (k&#937;)</text>
<text transform="translate(181.5,399) rotate(-90)" font-size="10" text-anchor="middle" font-weight="bold">Z'' (k&#937;)</text>
<g clip-path="url(#cg)">
<path d="M209.3,451.0C209.6,450.2 210.3,447.9 210.8,446.5C211.3,445.1 211.8,443.6 212.5,442.5C213.2,441.4 214.0,440.6 215.0,440.0C216.0,439.4 217.1,439.0 218.5,438.8C219.9,438.6 221.5,438.7 223.2,438.9C224.9,439.1 226.8,440.1 228.6,440.2C230.4,440.3 232.5,439.9 234.0,439.5C235.5,439.1 236.3,438.4 237.5,437.5C238.7,436.6 239.3,435.9 241.0,434.0C242.7,432.1 245.4,428.7 247.7,426.0C249.9,423.3 252.2,420.7 254.5,417.7C256.8,414.7 259.6,410.9 261.4,408.2C263.2,405.5 264.6,403.1 265.5,401.4C266.4,399.7 266.2,398.6 267.0,398.2C267.8,397.8 269.8,398.8 270.4,398.9" fill="none" stroke="#000" stroke-width="1.6"/><circle cx="209.3" cy="451.0" r="2.1" fill="#000"/><circle cx="210.0" cy="448.7" r="2.1" fill="#000"/><circle cx="210.8" cy="446.5" r="2.1" fill="#000"/><circle cx="211.7" cy="444.2" r="2.1" fill="#000"/><circle cx="212.8" cy="442.0" r="2.1" fill="#000"/><circle cx="214.6" cy="440.3" r="2.1" fill="#000"/><circle cx="216.6" cy="439.2" r="2.1" fill="#000"/><circle cx="218.9" cy="438.8" r="2.1" fill="#000"/><circle cx="221.5" cy="438.7" r="2.1" fill="#000"/><circle cx="224.0" cy="439.0" r="2.1" fill="#000"/><circle cx="226.4" cy="439.8" r="2.1" fill="#000"/><circle cx="228.9" cy="440.2" r="2.1" fill="#000"/><circle cx="231.4" cy="440.1" r="2.1" fill="#000"/><circle cx="233.8" cy="439.6" r="2.1" fill="#000"/><circle cx="236.0" cy="438.6" r="2.1" fill="#000"/><circle cx="239.7" cy="435.4" r="2.1" fill="#000"/><circle cx="242.8" cy="431.9" r="2.1" fill="#000"/><circle cx="245.9" cy="428.1" r="2.1" fill="#000"/><circle cx="249.1" cy="424.4" r="2.1" fill="#000"/><circle cx="252.1" cy="420.7" r="2.1" fill="#000"/><circle cx="255.2" cy="416.8" r="2.1" fill="#000"/><circle cx="258.1" cy="412.9" r="2.1" fill="#000"/><circle cx="260.8" cy="409.0" r="2.1" fill="#000"/><circle cx="263.4" cy="405.1" r="2.1" fill="#000"/><circle cx="265.7" cy="400.9" r="2.1" fill="#000"/><circle cx="270.4" cy="398.9" r="2.1" fill="#000"/>
<path d="M209.3,451.0C209.6,450.1 210.4,447.2 211.0,445.5C211.6,443.8 212.1,442.0 212.8,440.5C213.5,439.0 214.1,437.5 215.0,436.5C215.9,435.5 216.8,435.0 218.0,434.5C219.2,434.0 220.4,433.7 222.0,433.6C223.6,433.5 225.5,433.6 227.3,434.0C229.1,434.4 230.9,435.5 232.7,435.8C234.5,436.1 236.7,436.2 238.2,436.0C239.7,435.8 240.4,435.3 241.5,434.5C242.6,433.7 243.3,433.1 245.0,431.4C246.7,429.7 249.5,426.8 251.8,424.5C254.1,422.2 256.6,419.7 258.6,417.7C260.6,415.7 262.6,413.5 264.0,412.3C265.4,411.1 266.3,410.8 266.8,410.5" fill="none" stroke="#f23a3a" stroke-width="1.6"/><circle cx="209.3" cy="451.0" r="2.1" fill="#f23a3a"/><circle cx="210.0" cy="448.6" r="2.1" fill="#f23a3a"/><circle cx="210.7" cy="446.4" r="2.1" fill="#f23a3a"/><circle cx="211.5" cy="443.9" r="2.1" fill="#f23a3a"/><circle cx="212.3" cy="441.7" r="2.1" fill="#f23a3a"/><circle cx="213.3" cy="439.4" r="2.1" fill="#f23a3a"/><circle cx="214.4" cy="437.3" r="2.1" fill="#f23a3a"/><circle cx="216.0" cy="435.6" r="2.1" fill="#f23a3a"/><circle cx="218.0" cy="434.5" r="2.1" fill="#f23a3a"/><circle cx="220.3" cy="433.8" r="2.1" fill="#f23a3a"/><circle cx="222.7" cy="433.6" r="2.1" fill="#f23a3a"/><circle cx="225.1" cy="433.7" r="2.1" fill="#f23a3a"/><circle cx="227.6" cy="434.1" r="2.1" fill="#f23a3a"/><circle cx="230.0" cy="434.9" r="2.1" fill="#f23a3a"/><circle cx="232.2" cy="435.7" r="2.1" fill="#f23a3a"/><circle cx="236.7" cy="436.1" r="2.1" fill="#f23a3a"/><circle cx="241.0" cy="434.8" r="2.1" fill="#f23a3a"/><circle cx="244.5" cy="431.9" r="2.1" fill="#f23a3a"/><circle cx="247.8" cy="428.5" r="2.1" fill="#f23a3a"/><circle cx="251.1" cy="425.2" r="2.1" fill="#f23a3a"/><circle cx="254.2" cy="422.1" r="2.1" fill="#f23a3a"/><circle cx="257.7" cy="418.6" r="2.1" fill="#f23a3a"/><circle cx="261.0" cy="415.3" r="2.1" fill="#f23a3a"/><circle cx="264.2" cy="412.1" r="2.1" fill="#f23a3a"/><circle cx="266.8" cy="410.5" r="2.1" fill="#f23a3a"/>
<path d="M209.3,451.0C209.7,449.8 210.8,446.2 211.5,444.0C212.2,441.8 212.8,439.5 213.6,437.5C214.3,435.5 215.1,433.5 216.0,432.0C216.9,430.5 217.6,429.4 219.0,428.3C220.4,427.2 222.7,426.0 224.5,425.3C226.3,424.6 227.9,424.4 230.0,424.3C232.1,424.2 234.5,424.4 236.8,424.8C239.1,425.2 241.6,426.1 243.6,426.7C245.6,427.3 247.2,428.1 249.0,428.6C250.8,429.1 252.7,429.6 254.5,429.5C256.3,429.4 257.9,428.9 260.0,427.8C262.1,426.8 264.5,425.1 266.8,423.2C269.1,421.3 271.3,418.7 273.6,416.4C275.9,414.1 278.2,412.0 280.5,409.5C282.8,407.0 285.1,404.1 287.3,401.4C289.6,398.7 292.4,394.8 294.0,393.2C295.6,391.6 296.3,392.0 296.8,391.8" fill="none" stroke="#25c07c" stroke-width="1.4"/><circle cx="209.3" cy="451.0" r="2.1" fill="#25c07c"/><circle cx="209.9" cy="449.0" r="2.1" fill="#25c07c"/><circle cx="210.5" cy="447.1" r="2.1" fill="#25c07c"/><circle cx="211.3" cy="444.7" r="2.1" fill="#25c07c"/><circle cx="212.0" cy="442.3" r="2.1" fill="#25c07c"/><circle cx="213.0" cy="439.4" r="2.1" fill="#25c07c"/><circle cx="214.1" cy="436.3" r="2.1" fill="#25c07c"/><circle cx="215.5" cy="433.0" r="2.1" fill="#25c07c"/><circle cx="217.7" cy="429.5" r="2.1" fill="#25c07c"/><circle cx="221.6" cy="426.6" r="2.1" fill="#25c07c"/><circle cx="226.4" cy="424.7" r="2.1" fill="#25c07c"/><circle cx="231.6" cy="424.3" r="2.1" fill="#25c07c"/><circle cx="236.8" cy="424.8" r="2.1" fill="#25c07c"/><circle cx="241.7" cy="426.1" r="2.1" fill="#25c07c"/><circle cx="246.6" cy="427.8" r="2.1" fill="#25c07c"/><circle cx="251.5" cy="429.2" r="2.1" fill="#25c07c"/><circle cx="256.6" cy="429.1" r="2.1" fill="#25c07c"/><circle cx="261.3" cy="427.1" r="2.1" fill="#25c07c"/><circle cx="265.8" cy="424.0" r="2.1" fill="#25c07c"/><circle cx="269.5" cy="420.6" r="2.1" fill="#25c07c"/><circle cx="273.3" cy="416.7" r="2.1" fill="#25c07c"/><circle cx="277.1" cy="413.0" r="2.1" fill="#25c07c"/><circle cx="280.8" cy="409.1" r="2.1" fill="#25c07c"/><circle cx="284.3" cy="405.1" r="2.1" fill="#25c07c"/><circle cx="287.6" cy="401.0" r="2.1" fill="#25c07c"/><circle cx="290.9" cy="396.9" r="2.1" fill="#25c07c"/><circle cx="294.2" cy="393.0" r="2.1" fill="#25c07c"/><circle cx="296.8" cy="391.8" r="2.1" fill="#25c07c"/>
<path d="M209.3,451.0C209.7,449.7 210.7,445.5 211.4,443.0C212.1,440.5 212.8,438.4 213.6,436.0C214.4,433.6 215.3,430.8 216.5,428.5C217.7,426.2 218.7,424.0 220.5,422.0C222.3,420.0 225.1,417.8 227.3,416.5C229.6,415.2 231.7,414.6 234.0,414.0C236.3,413.4 238.7,413.0 241.0,413.0C243.3,413.0 245.4,413.4 247.7,414.2C249.9,415.0 252.2,416.5 254.5,417.7C256.8,418.9 259.1,420.4 261.4,421.3C263.7,422.2 265.9,423.0 268.2,423.2C270.5,423.4 272.7,423.3 275.0,422.6C277.3,421.9 279.8,420.5 281.8,419.0C283.9,417.5 285.3,415.9 287.3,413.6C289.3,411.4 291.7,408.0 294.0,405.5C296.3,403.0 298.5,401.1 301.0,398.6C303.5,396.1 306.4,393.0 309.0,390.5C311.6,388.0 315.2,384.8 316.5,383.6" fill="none" stroke="#1fa6e6" stroke-width="1.4"/><circle cx="209.3" cy="451.0" r="2.1" fill="#1fa6e6"/><circle cx="209.8" cy="449.2" r="2.1" fill="#1fa6e6"/><circle cx="210.3" cy="447.0" r="2.1" fill="#1fa6e6"/><circle cx="210.9" cy="444.7" r="2.1" fill="#1fa6e6"/><circle cx="211.6" cy="442.3" r="2.1" fill="#1fa6e6"/><circle cx="212.4" cy="439.5" r="2.1" fill="#1fa6e6"/><circle cx="213.5" cy="436.4" r="2.1" fill="#1fa6e6"/><circle cx="214.7" cy="433.0" r="2.1" fill="#1fa6e6"/><circle cx="216.2" cy="429.2" r="2.1" fill="#1fa6e6"/><circle cx="218.3" cy="425.1" r="2.1" fill="#1fa6e6"/><circle cx="221.4" cy="421.1" r="2.1" fill="#1fa6e6"/><circle cx="225.9" cy="417.4" r="2.1" fill="#1fa6e6"/><circle cx="231.3" cy="414.7" r="2.1" fill="#1fa6e6"/><circle cx="237.1" cy="413.3" r="2.1" fill="#1fa6e6"/><circle cx="243.0" cy="413.1" r="2.1" fill="#1fa6e6"/><circle cx="248.7" cy="414.6" r="2.1" fill="#1fa6e6"/><circle cx="254.2" cy="417.5" r="2.1" fill="#1fa6e6"/><circle cx="259.3" cy="420.3" r="2.1" fill="#1fa6e6"/><circle cx="264.8" cy="422.5" r="2.1" fill="#1fa6e6"/><circle cx="270.6" cy="423.3" r="2.1" fill="#1fa6e6"/><circle cx="276.4" cy="422.1" r="2.1" fill="#1fa6e6"/><circle cx="281.5" cy="419.2" r="2.1" fill="#1fa6e6"/><circle cx="285.9" cy="415.2" r="2.1" fill="#1fa6e6"/><circle cx="289.9" cy="410.5" r="2.1" fill="#1fa6e6"/><circle cx="293.7" cy="405.9" r="2.1" fill="#1fa6e6"/><circle cx="297.8" cy="401.7" r="2.1" fill="#1fa6e6"/><circle cx="302.2" cy="397.4" r="2.1" fill="#1fa6e6"/><circle cx="306.6" cy="392.9" r="2.1" fill="#1fa6e6"/><circle cx="311.1" cy="388.5" r="2.1" fill="#1fa6e6"/><circle cx="316.5" cy="383.6" r="2.1" fill="#1fa6e6"/>
<path d="M209.3,451.0C209.6,449.5 210.4,444.8 211.2,442.0C211.9,439.2 212.9,436.5 213.8,434.0C214.7,431.5 215.5,429.2 216.4,427.0C217.3,424.8 218.4,423.0 219.5,421.0C220.6,419.0 221.4,417.4 223.2,415.0C224.9,412.6 227.5,408.9 230.0,406.5C232.5,404.1 235.5,401.9 238.2,400.5C240.9,399.1 243.7,398.3 246.4,397.8C249.1,397.3 251.6,397.3 254.5,397.3C257.4,397.3 261.0,397.5 264.0,398.0C267.0,398.5 269.6,399.3 272.3,400.5C275.1,401.7 278.0,403.5 280.5,405.0C283.0,406.5 285.1,408.3 287.3,409.5C289.6,410.7 291.7,412.0 294.0,412.3C296.3,412.6 298.7,412.4 301.0,411.5C303.3,410.6 305.4,408.6 307.7,406.8C309.9,405.0 312.2,402.8 314.5,400.5C316.8,398.2 319.1,395.6 321.4,393.2C323.7,390.8 326.2,388.5 328.2,386.4C330.2,384.3 331.8,382.4 333.6,380.5C335.4,378.6 337.2,376.8 339.0,375.0C340.8,373.2 343.6,370.8 344.5,370.0" fill="none" stroke="#4a4cf0" stroke-width="1.3"/><circle cx="209.3" cy="451.0" r="2.1" fill="#4a4cf0"/><circle cx="209.7" cy="448.9" r="2.1" fill="#4a4cf0"/><circle cx="210.1" cy="447.0" r="2.1" fill="#4a4cf0"/><circle cx="210.6" cy="444.4" r="2.1" fill="#4a4cf0"/><circle cx="211.3" cy="441.6" r="2.1" fill="#4a4cf0"/><circle cx="212.2" cy="438.7" r="2.1" fill="#4a4cf0"/><circle cx="213.3" cy="435.5" r="2.1" fill="#4a4cf0"/><circle cx="214.6" cy="431.8" r="2.1" fill="#4a4cf0"/><circle cx="216.1" cy="427.7" r="2.1" fill="#4a4cf0"/><circle cx="218.2" cy="423.4" r="2.1" fill="#4a4cf0"/><circle cx="220.8" cy="418.7" r="2.1" fill="#4a4cf0"/><circle cx="224.3" cy="413.4" r="2.1" fill="#4a4cf0"/><circle cx="228.1" cy="408.5" r="2.1" fill="#4a4cf0"/><circle cx="232.8" cy="404.1" r="2.1" fill="#4a4cf0"/><circle cx="238.2" cy="400.5" r="2.1" fill="#4a4cf0"/><circle cx="244.4" cy="398.2" r="2.1" fill="#4a4cf0"/><circle cx="250.8" cy="397.3" r="2.1" fill="#4a4cf0"/><circle cx="257.3" cy="397.4" r="2.1" fill="#4a4cf0"/><circle cx="263.6" cy="397.9" r="2.1" fill="#4a4cf0"/><circle cx="269.9" cy="399.5" r="2.1" fill="#4a4cf0"/><circle cx="275.7" cy="402.2" r="2.1" fill="#4a4cf0"/><circle cx="281.2" cy="405.5" r="2.1" fill="#4a4cf0"/><circle cx="286.6" cy="409.1" r="2.1" fill="#4a4cf0"/><circle cx="292.3" cy="411.9" r="2.1" fill="#4a4cf0"/><circle cx="298.6" cy="412.2" r="2.1" fill="#4a4cf0"/><circle cx="304.4" cy="409.5" r="2.1" fill="#4a4cf0"/><circle cx="309.4" cy="405.4" r="2.1" fill="#4a4cf0"/><circle cx="314.2" cy="400.8" r="2.1" fill="#4a4cf0"/><circle cx="318.6" cy="396.1" r="2.1" fill="#4a4cf0"/><circle cx="323.1" cy="391.4" r="2.1" fill="#4a4cf0"/><circle cx="327.6" cy="387.0" r="2.1" fill="#4a4cf0"/><circle cx="332.0" cy="382.2" r="2.1" fill="#4a4cf0"/><circle cx="336.3" cy="377.7" r="2.1" fill="#4a4cf0"/><circle cx="340.8" cy="373.3" r="2.1" fill="#4a4cf0"/><circle cx="344.5" cy="370.0" r="2.1" fill="#4a4cf0"/>
<path d="M209.3,451.0C209.6,449.3 210.3,444.1 211.0,441.0C211.7,437.9 212.8,435.4 213.6,432.7C214.4,430.0 215.1,427.3 216.0,425.0C216.9,422.7 217.6,421.8 219.0,419.0C220.4,416.2 222.2,411.8 224.5,408.2C226.8,404.6 229.9,400.2 232.7,397.3C235.4,394.4 237.8,392.3 241.0,390.5C244.2,388.7 248.4,387.3 251.8,386.4C255.2,385.5 258.2,385.1 261.4,385.0C264.6,384.9 267.8,385.4 271.0,385.8C274.2,386.2 277.6,386.7 280.5,387.7C283.4,388.7 286.1,390.3 288.6,391.8C291.1,393.3 293.4,395.1 295.5,396.7C297.6,398.3 299.0,399.8 301.0,401.4C303.0,403.0 305.7,405.3 307.7,406.3C309.7,407.3 311.4,407.2 313.2,407.2C315.0,407.2 316.8,407.1 318.6,406.3C320.4,405.6 322.2,404.2 324.0,402.7C325.8,401.2 327.7,399.1 329.5,397.3C331.3,395.5 333.4,393.6 335.0,391.8C336.6,390.0 337.9,388.5 339.0,386.5C340.1,384.5 340.9,382.8 341.8,380.0C342.7,377.2 344.1,371.7 344.5,370.0" fill="none" stroke="#0d1a86" stroke-width="1.3"/><circle cx="209.3" cy="451.0" r="2.1" fill="#0d1a86"/><circle cx="209.6" cy="449.2" r="2.1" fill="#0d1a86"/><circle cx="209.9" cy="447.1" r="2.1" fill="#0d1a86"/><circle cx="210.3" cy="444.8" r="2.1" fill="#0d1a86"/><circle cx="210.8" cy="442.0" r="2.1" fill="#0d1a86"/><circle cx="211.5" cy="439.2" r="2.1" fill="#0d1a86"/><circle cx="212.5" cy="435.9" r="2.1" fill="#0d1a86"/><circle cx="213.7" cy="432.3" r="2.1" fill="#0d1a86"/><circle cx="214.9" cy="428.3" r="2.1" fill="#0d1a86"/><circle cx="216.5" cy="423.8" r="2.1" fill="#0d1a86"/><circle cx="219.0" cy="419.0" r="2.1" fill="#0d1a86"/><circle cx="221.7" cy="413.3" r="2.1" fill="#0d1a86"/><circle cx="225.2" cy="407.1" r="2.1" fill="#0d1a86"/><circle cx="229.3" cy="401.4" r="2.1" fill="#0d1a86"/><circle cx="233.9" cy="396.0" r="2.1" fill="#0d1a86"/><circle cx="239.2" cy="391.6" r="2.1" fill="#0d1a86"/><circle cx="245.2" cy="388.5" r="2.1" fill="#0d1a86"/><circle cx="251.8" cy="386.4" r="2.1" fill="#0d1a86"/><circle cx="258.6" cy="385.2" r="2.1" fill="#0d1a86"/><circle cx="265.2" cy="385.1" r="2.1" fill="#0d1a86"/><circle cx="272.0" cy="385.9" r="2.1" fill="#0d1a86"/><circle cx="278.7" cy="387.2" r="2.1" fill="#0d1a86"/><circle cx="285.1" cy="389.8" r="2.1" fill="#0d1a86"/><circle cx="290.8" cy="393.2" r="2.1" fill="#0d1a86"/><circle cx="296.1" cy="397.2" r="2.1" fill="#0d1a86"/><circle cx="301.3" cy="401.6" r="2.1" fill="#0d1a86"/><circle cx="306.7" cy="405.8" r="2.1" fill="#0d1a86"/><circle cx="313.2" cy="407.2" r="2.1" fill="#0d1a86"/><circle cx="319.7" cy="405.8" r="2.1" fill="#0d1a86"/><circle cx="325.1" cy="401.7" r="2.1" fill="#0d1a86"/><circle cx="329.8" cy="397.0" r="2.1" fill="#0d1a86"/><circle cx="334.5" cy="392.3" r="2.1" fill="#0d1a86"/><circle cx="338.7" cy="387.1" r="2.1" fill="#0d1a86"/><circle cx="341.5" cy="380.8" r="2.1" fill="#0d1a86"/><circle cx="343.5" cy="374.0" r="2.1" fill="#0d1a86"/><circle cx="344.5" cy="370.0" r="2.1" fill="#0d1a86"/>
</g>
<circle cx="344.5" cy="370" r="2.1" fill="#0d1a86"/>
<line x1="207.6" y1="353.1" x2="217.29999999999998" y2="353.1" stroke="#000" stroke-width="1.4"/><circle cx="212.45" cy="353.1" r="2" fill="#000"/>
<text x="219.6" y="355.6" font-size="6.9" text-anchor="start" fill="#000" font-weight="bold" >Blank</text>
<line x1="207.6" y1="362.7" x2="217.29999999999998" y2="362.7" stroke="#f23a3a" stroke-width="1.4"/><circle cx="212.45" cy="362.7" r="2" fill="#f23a3a"/>
<text x="219.6" y="365.2" font-size="6.9" text-anchor="start" fill="#000" font-weight="bold" >100</text>
<line x1="207.6" y1="372.2" x2="217.29999999999998" y2="372.2" stroke="#25c07c" stroke-width="1.4"/><circle cx="212.45" cy="372.2" r="2" fill="#25c07c"/>
<text x="219.6" y="374.7" font-size="6.9" text-anchor="start" fill="#000" font-weight="bold" >200</text>
<line x1="243" y1="353.1" x2="252.7" y2="353.1" stroke="#1fa6e6" stroke-width="1.4"/><circle cx="247.85" cy="353.1" r="2" fill="#1fa6e6"/>
<text x="255" y="355.6" font-size="6.9" text-anchor="start" fill="#000" font-weight="bold" >300 (pg mL<tspan dy="-2.5" font-size="4.3">-1</tspan><tspan dy="2.5">)</tspan></text>
<line x1="243" y1="362.7" x2="252.7" y2="362.7" stroke="#4a4cf0" stroke-width="1.4"/><circle cx="247.85" cy="362.7" r="2" fill="#4a4cf0"/>
<text x="255" y="365.2" font-size="6.9" text-anchor="start" fill="#000" font-weight="bold" >500</text>
<line x1="243" y1="372.2" x2="252.7" y2="372.2" stroke="#4b1a9a" stroke-width="1.4"/><circle cx="247.85" cy="372.2" r="2" fill="#4b1a9a"/>
<text x="255" y="374.7" font-size="6.9" text-anchor="start" fill="#000" font-weight="bold" >1000</text></g>
<g id="ph"><rect x="405.6" y="344.9" width="131.29999999999995" height="105.70000000000005" fill="#fff" stroke="#000" stroke-width="1.2"/>
<line x1="402.8" y1="438.6" x2="405.6" y2="438.6" stroke="#000" stroke-width="1.2"/>
<text x="401.20000000000005" y="441.90000000000003" font-size="9.2" text-anchor="end" fill="#000" font-weight="bold" >0</text>
<line x1="402.8" y1="415.23" x2="405.6" y2="415.23" stroke="#000" stroke-width="1.2"/>
<text x="401.20000000000005" y="418.53000000000003" font-size="9.2" text-anchor="end" fill="#000" font-weight="bold" >1</text>
<line x1="402.8" y1="391.86" x2="405.6" y2="391.86" stroke="#000" stroke-width="1.2"/>
<text x="401.20000000000005" y="395.16" font-size="9.2" text-anchor="end" fill="#000" font-weight="bold" >2</text>
<line x1="402.8" y1="368.49" x2="405.6" y2="368.49" stroke="#000" stroke-width="1.2"/>
<text x="401.20000000000005" y="371.79" font-size="9.2" text-anchor="end" fill="#000" font-weight="bold" >3</text>
<line x1="402.8" y1="345.12" x2="405.6" y2="345.12" stroke="#000" stroke-width="1.2"/>
<text x="401.20000000000005" y="348.42" font-size="9.2" text-anchor="end" fill="#000" font-weight="bold" >4</text>
<line x1="403.90000000000003" y1="450.285" x2="405.6" y2="450.285" stroke="#000" stroke-width="1"/>
<line x1="403.90000000000003" y1="426.915" x2="405.6" y2="426.915" stroke="#000" stroke-width="1"/>
<line x1="403.90000000000003" y1="403.545" x2="405.6" y2="403.545" stroke="#000" stroke-width="1"/>
<line x1="403.90000000000003" y1="380.175" x2="405.6" y2="380.175" stroke="#000" stroke-width="1"/>
<line x1="403.90000000000003" y1="356.805" x2="405.6" y2="356.805" stroke="#000" stroke-width="1"/>
<line x1="406.6" y1="450.6" x2="406.6" y2="453.40000000000003" stroke="#000" stroke-width="1.2"/>
<text x="406.6" y="460.40000000000003" font-size="9.2" text-anchor="middle" fill="#000" font-weight="bold" >0</text>
<line x1="431.48" y1="450.6" x2="431.48" y2="453.40000000000003" stroke="#000" stroke-width="1.2"/>
<text x="431.48" y="460.40000000000003" font-size="9.2" text-anchor="middle" fill="#000" font-weight="bold" >200</text>
<line x1="456.36" y1="450.6" x2="456.36" y2="453.40000000000003" stroke="#000" stroke-width="1.2"/>
<text x="456.36" y="460.40000000000003" font-size="9.2" text-anchor="middle" fill="#000" font-weight="bold" >400</text>
<line x1="481.24" y1="450.6" x2="481.24" y2="453.40000000000003" stroke="#000" stroke-width="1.2"/>
<text x="481.24" y="460.40000000000003" font-size="9.2" text-anchor="middle" fill="#000" font-weight="bold" >600</text>
<line x1="506.12" y1="450.6" x2="506.12" y2="453.40000000000003" stroke="#000" stroke-width="1.2"/>
<text x="506.12" y="460.40000000000003" font-size="9.2" text-anchor="middle" fill="#000" font-weight="bold" >800</text>
<line x1="531.0" y1="450.6" x2="531.0" y2="453.40000000000003" stroke="#000" stroke-width="1.2"/>
<text x="531.0" y="460.40000000000003" font-size="9.2" text-anchor="middle" fill="#000" font-weight="bold" >1000</text>
<line x1="419.04" y1="450.6" x2="419.04" y2="452.3" stroke="#000" stroke-width="1"/>
<line x1="443.92" y1="450.6" x2="443.92" y2="452.3" stroke="#000" stroke-width="1"/>
<line x1="468.8" y1="450.6" x2="468.8" y2="452.3" stroke="#000" stroke-width="1"/>
<line x1="493.68" y1="450.6" x2="493.68" y2="452.3" stroke="#000" stroke-width="1"/>
<line x1="518.5600000000001" y1="450.6" x2="518.5600000000001" y2="452.3" stroke="#000" stroke-width="1"/>
<text x="475.8" y="473.7" font-size="10.2" text-anchor="middle" fill="#000" font-weight="bold" >Concentration (pg mL<tspan dy="-3.5" font-size="6.3">-1</tspan><tspan dy="3.5">)</tspan></text>
<text transform="translate(381.5,397.8) rotate(-90)" font-size="10.2" text-anchor="middle" font-weight="bold">&#916;R<tspan dy="2.5" font-size="7">ct</tspan><tspan dy="-2.5"> / R</tspan><tspan dy="2.5" font-size="7">ct</tspan><tspan dy="-2.5"> (blank)</tspan></text>
<line x1="419.04" y1="431.589" x2="531.0" y2="368.49" stroke="#f02020" stroke-width="1.3" stroke-dasharray="4.5,2.5"/>
<polyline fill="none" stroke="#1a3fe8" stroke-width="1.3" points="419.0,434.4 443.9,417.6 468.8,393.0 531.0,377.4"/>
<polyline fill="none" stroke="#000" stroke-width="1.3" points="419.0,435.1 443.9,432.8 468.8,427.6 531.0,425.0"/>
<line x1="419.04" y1="434.62710000000004" x2="531.0" y2="423.87690000000003" stroke="#f02020" stroke-width="1.3" stroke-dasharray="4.5,2.5"/>
<line x1="419.04" y1="436.26300000000003" x2="419.04" y2="432.52380000000005" stroke="#1a3fe8" stroke-width="1.1"/><line x1="416.64000000000004" y1="436.26300000000003" x2="421.44" y2="436.26300000000003" stroke="#1a3fe8" stroke-width="1.1"/><line x1="416.64000000000004" y1="432.52380000000005" x2="421.44" y2="432.52380000000005" stroke="#1a3fe8" stroke-width="1.1"/>
<rect x="417.14000000000004" y="432.49340000000007" width="3.8" height="3.8" fill="#1a3fe8"/>
<line x1="443.92" y1="421.30620000000005" x2="443.92" y2="414.0615" stroke="#1a3fe8" stroke-width="1.1"/><line x1="441.52000000000004" y1="421.30620000000005" x2="446.32" y2="421.30620000000005" stroke="#1a3fe8" stroke-width="1.1"/><line x1="441.52000000000004" y1="414.0615" x2="446.32" y2="414.0615" stroke="#1a3fe8" stroke-width="1.1"/>
<rect x="442.02000000000004" y="415.66700000000003" width="3.8" height="3.8" fill="#1a3fe8"/>
<line x1="468.8" y1="401.6754" x2="468.8" y2="377.3706" stroke="#1a3fe8" stroke-width="1.1"/><line x1="466.40000000000003" y1="401.6754" x2="471.2" y2="401.6754" stroke="#1a3fe8" stroke-width="1.1"/><line x1="466.40000000000003" y1="377.3706" x2="471.2" y2="377.3706" stroke="#1a3fe8" stroke-width="1.1"/>
<rect x="466.90000000000003" y="391.12850000000003" width="3.8" height="3.8" fill="#1a3fe8"/>
<line x1="531.0" y1="398.40360000000004" x2="531.0" y2="356.805" stroke="#1a3fe8" stroke-width="1.1"/><line x1="528.6" y1="398.40360000000004" x2="533.4" y2="398.40360000000004" stroke="#1a3fe8" stroke-width="1.1"/><line x1="528.6" y1="356.805" x2="533.4" y2="356.805" stroke="#1a3fe8" stroke-width="1.1"/>
<rect x="529.1" y="375.47060000000005" width="3.8" height="3.8" fill="#1a3fe8"/>
<line x1="419.04" y1="436.26300000000003" x2="419.04" y2="433.92600000000004" stroke="#000" stroke-width="1.1"/><line x1="416.64000000000004" y1="436.26300000000003" x2="421.44" y2="436.26300000000003" stroke="#000" stroke-width="1.1"/><line x1="416.64000000000004" y1="433.92600000000004" x2="421.44" y2="433.92600000000004" stroke="#000" stroke-width="1.1"/>
<rect x="417.44" y="433.4945" width="3.2" height="3.2" fill="#000"/>
<line x1="443.92" y1="434.15970000000004" x2="443.92" y2="431.3553" stroke="#000" stroke-width="1.1"/><line x1="441.52000000000004" y1="434.15970000000004" x2="446.32" y2="434.15970000000004" stroke="#000" stroke-width="1.1"/><line x1="441.52000000000004" y1="431.3553" x2="446.32" y2="431.3553" stroke="#000" stroke-width="1.1"/>
<rect x="442.32" y="431.1575" width="3.2" height="3.2" fill="#000"/>
<line x1="468.8" y1="429.7194" x2="468.8" y2="425.5128" stroke="#000" stroke-width="1.1"/><line x1="466.40000000000003" y1="429.7194" x2="471.2" y2="429.7194" stroke="#000" stroke-width="1.1"/><line x1="466.40000000000003" y1="425.5128" x2="471.2" y2="425.5128" stroke="#000" stroke-width="1.1"/>
<rect x="467.2" y="426.0161" width="3.2" height="3.2" fill="#000"/>
<line x1="531.0" y1="427.8498" x2="531.0" y2="421.77360000000004" stroke="#000" stroke-width="1.1"/><line x1="528.6" y1="427.8498" x2="533.4" y2="427.8498" stroke="#000" stroke-width="1.1"/><line x1="528.6" y1="421.77360000000004" x2="533.4" y2="421.77360000000004" stroke="#000" stroke-width="1.1"/>
<rect x="529.4" y="423.4454" width="3.2" height="3.2" fill="#000"/>
<text x="410.4" y="355.1" font-size="8.15" text-anchor="start" fill="#000" font-weight="bold" >y= 0.0029x+0.0857</text>
<text x="410.4" y="364.6" font-size="8.15" text-anchor="start" fill="#000" font-weight="bold" >R<tspan dy="-2.7" font-size="5">2</tspan><tspan dy="2.7">=0.9473</tspan></text>
<text x="527.3" y="368" font-size="9.7" text-anchor="end" fill="#1a3fe8" font-weight="bold" >MIP</text>
<text x="526" y="420.3" font-size="9.7" text-anchor="end" fill="#000" font-weight="bold" >NIP</text>
<text x="533.7" y="438.5" font-size="8.15" text-anchor="end" fill="#000" font-weight="bold" >y= 0.1492x+0.0021</text>
<text x="533.7" y="447.6" font-size="8.15" text-anchor="end" fill="#000" font-weight="bold" >R<tspan dy="-2.7" font-size="5">2</tspan><tspan dy="2.7">=0.9725</tspan></text></g>
<g id="pi"><rect x="202.3" y="490.7" width="143.0" height="105.40000000000003" fill="#fff" stroke="#000" stroke-width="1.2"/>
<clipPath id="ci"><rect x="202.3" y="490.7" width="143.0" height="105.40000000000003"/></clipPath>
<line x1="199.5" y1="490.7" x2="202.3" y2="490.7" stroke="#000" stroke-width="1.2"/>
<text x="197.9" y="494.0" font-size="9.2" text-anchor="end" fill="#000" font-weight="bold" >-5</text>
<line x1="199.5" y1="512.1" x2="202.3" y2="512.1" stroke="#000" stroke-width="1.2"/>
<text x="197.9" y="515.4" font-size="9.2" text-anchor="end" fill="#000" font-weight="bold" >-4</text>
<line x1="199.5" y1="533.2" x2="202.3" y2="533.2" stroke="#000" stroke-width="1.2"/>
<text x="197.9" y="536.5" font-size="9.2" text-anchor="end" fill="#000" font-weight="bold" >-3</text>
<line x1="199.5" y1="554.3" x2="202.3" y2="554.3" stroke="#000" stroke-width="1.2"/>
<text x="197.9" y="557.5999999999999" font-size="9.2" text-anchor="end" fill="#000" font-weight="bold" >-2</text>
<line x1="199.5" y1="575.4" x2="202.3" y2="575.4" stroke="#000" stroke-width="1.2"/>
<text x="197.9" y="578.6999999999999" font-size="9.2" text-anchor="end" fill="#000" font-weight="bold" >-1</text>
<line x1="199.5" y1="596.1" x2="202.3" y2="596.1" stroke="#000" stroke-width="1.2"/>
<text x="197.9" y="599.4" font-size="9.2" text-anchor="end" fill="#000" font-weight="bold" >0</text>
<line x1="200.60000000000002" y1="501.4" x2="202.3" y2="501.4" stroke="#000" stroke-width="1"/>
<line x1="200.60000000000002" y1="522.6" x2="202.3" y2="522.6" stroke="#000" stroke-width="1"/>
<line x1="200.60000000000002" y1="543.7" x2="202.3" y2="543.7" stroke="#000" stroke-width="1"/>
<line x1="200.60000000000002" y1="564.8" x2="202.3" y2="564.8" stroke="#000" stroke-width="1"/>
<line x1="200.60000000000002" y1="585.8" x2="202.3" y2="585.8" stroke="#000" stroke-width="1"/>
<line x1="209.2" y1="596.1" x2="209.2" y2="598.9" stroke="#000" stroke-width="1.2"/>
<text x="209.2" y="605.9" font-size="9.2" text-anchor="middle" fill="#000" font-weight="bold" >0</text>
<line x1="236.5" y1="596.1" x2="236.5" y2="598.9" stroke="#000" stroke-width="1.2"/>
<text x="236.5" y="605.9" font-size="9.2" text-anchor="middle" fill="#000" font-weight="bold" >2</text>
<line x1="264.1" y1="596.1" x2="264.1" y2="598.9" stroke="#000" stroke-width="1.2"/>
<text x="264.1" y="605.9" font-size="9.2" text-anchor="middle" fill="#000" font-weight="bold" >5</text>
<line x1="291.1" y1="596.1" x2="291.1" y2="598.9" stroke="#000" stroke-width="1.2"/>
<text x="291.1" y="605.9" font-size="9.2" text-anchor="middle" fill="#000" font-weight="bold" >10</text>
<line x1="318.7" y1="596.1" x2="318.7" y2="598.9" stroke="#000" stroke-width="1.2"/>
<text x="318.7" y="605.9" font-size="9.2" text-anchor="middle" fill="#000" font-weight="bold" >15</text>
<line x1="344.6" y1="596.1" x2="344.6" y2="598.9" stroke="#000" stroke-width="1.2"/>
<text x="344.6" y="605.9" font-size="9.2" text-anchor="middle" fill="#000" font-weight="bold" >20</text>
<line x1="222.8" y1="596.1" x2="222.8" y2="597.8000000000001" stroke="#000" stroke-width="1"/>
<line x1="250.3" y1="596.1" x2="250.3" y2="597.8000000000001" stroke="#000" stroke-width="1"/>
<line x1="277.6" y1="596.1" x2="277.6" y2="597.8000000000001" stroke="#000" stroke-width="1"/>
<line x1="304.9" y1="596.1" x2="304.9" y2="597.8000000000001" stroke="#000" stroke-width="1"/>
<line x1="331.7" y1="596.1" x2="331.7" y2="597.8000000000001" stroke="#000" stroke-width="1"/>
<text x="276" y="618.5" font-size="10.2" text-anchor="middle" fill="#000" font-weight="bold" >Z' (k&#937;)</text>
<text transform="translate(181.5,543.5) rotate(-90)" font-size="10" text-anchor="middle" font-weight="bold">Z'' (k&#937;)</text>
<g clip-path="url(#ci)">
<path d="M211.3,595.6C211.5,594.5 212.1,591.1 212.6,589.0C213.1,586.9 213.6,584.5 214.2,583.0C214.8,581.5 215.1,581.8 216.4,580.0C217.7,578.2 220.0,574.7 221.8,572.0C223.6,569.3 225.3,566.1 227.3,564.0C229.3,561.9 231.7,560.3 234.0,559.2C236.3,558.1 238.7,557.5 241.0,557.3C243.3,557.1 245.4,557.3 247.7,558.0C249.9,558.7 252.2,560.2 254.5,561.4C256.8,562.6 259.1,564.4 261.4,565.4C263.7,566.4 265.9,567.2 268.2,567.6C270.5,568.0 272.7,568.2 275.0,567.6C277.3,567.0 279.8,565.5 281.8,564.0C283.9,562.5 285.3,560.9 287.3,558.6C289.3,556.4 291.7,553.2 294.0,550.5C296.3,547.8 298.7,544.8 301.0,542.3C303.3,539.8 306.1,536.9 307.7,535.5C309.3,534.1 309.9,534.2 310.4,534.0" fill="none" stroke="#000" stroke-width="1.6"/><circle cx="211.3" cy="595.6" r="2.1" fill="#000"/><circle cx="211.8" cy="593.0" r="2.1" fill="#000"/><circle cx="212.2" cy="590.8" r="2.1" fill="#000"/><circle cx="212.7" cy="588.4" r="2.1" fill="#000"/><circle cx="213.3" cy="586.1" r="2.1" fill="#000"/><circle cx="213.9" cy="583.7" r="2.1" fill="#000"/><circle cx="215.1" cy="581.6" r="2.1" fill="#000"/><circle cx="216.6" cy="579.7" r="2.1" fill="#000"/><circle cx="218.0" cy="577.6" r="2.1" fill="#000"/><circle cx="219.5" cy="575.4" r="2.1" fill="#000"/><circle cx="221.0" cy="573.2" r="2.1" fill="#000"/><circle cx="222.3" cy="571.2" r="2.1" fill="#000"/><circle cx="223.7" cy="569.1" r="2.1" fill="#000"/><circle cx="225.0" cy="567.0" r="2.1" fill="#000"/><circle cx="226.4" cy="565.0" r="2.1" fill="#000"/><circle cx="228.2" cy="563.1" r="2.1" fill="#000"/><circle cx="230.2" cy="561.5" r="2.1" fill="#000"/><circle cx="232.3" cy="560.1" r="2.1" fill="#000"/><circle cx="234.3" cy="559.0" r="2.1" fill="#000"/><circle cx="236.8" cy="558.1" r="2.1" fill="#000"/><circle cx="239.3" cy="557.5" r="2.1" fill="#000"/><circle cx="241.7" cy="557.3" r="2.1" fill="#000"/><circle cx="244.0" cy="557.3" r="2.1" fill="#000"/><circle cx="246.4" cy="557.6" r="2.1" fill="#000"/><circle cx="248.7" cy="558.4" r="2.1" fill="#000"/><circle cx="251.1" cy="559.5" r="2.1" fill="#000"/><circle cx="253.1" cy="560.6" r="2.1" fill="#000"/><circle cx="255.2" cy="561.8" r="2.1" fill="#000"/><circle cx="257.3" cy="563.0" r="2.1" fill="#000"/><circle cx="259.3" cy="564.3" r="2.1" fill="#000"/><circle cx="261.4" cy="565.4" r="2.1" fill="#000"/><circle cx="263.8" cy="566.4" r="2.1" fill="#000"/><circle cx="266.2" cy="567.2" r="2.1" fill="#000"/><circle cx="268.5" cy="567.7" r="2.1" fill="#000"/><circle cx="270.9" cy="567.9" r="2.1" fill="#000"/><circle cx="273.3" cy="567.9" r="2.1" fill="#000"/><circle cx="275.7" cy="567.4" r="2.1" fill="#000"/><circle cx="278.1" cy="566.3" r="2.1" fill="#000"/><circle cx="280.2" cy="565.1" r="2.1" fill="#000"/><circle cx="283.0" cy="563.1" r="2.1" fill="#000"/><circle cx="285.6" cy="560.5" r="2.1" fill="#000"/><circle cx="287.9" cy="557.9" r="2.1" fill="#000"/><circle cx="290.2" cy="555.1" r="2.1" fill="#000"/><circle cx="292.6" cy="552.2" r="2.1" fill="#000"/><circle cx="295.0" cy="549.3" r="2.1" fill="#000"/><circle cx="297.5" cy="546.3" r="2.1" fill="#000"/><circle cx="300.0" cy="543.5" r="2.1" fill="#000"/><circle cx="302.4" cy="540.8" r="2.1" fill="#000"/><circle cx="305.0" cy="538.1" r="2.1" fill="#000"/><circle cx="307.5" cy="535.7" r="2.1" fill="#000"/><circle cx="310.4" cy="534.0" r="2.1" fill="#000"/>
<path d="M211.3,595.6C211.5,594.5 212.1,591.1 212.6,589.0C213.1,586.9 213.6,585.0 214.2,583.0C214.8,581.0 215.1,580.2 216.4,577.0C217.7,573.8 219.8,568.4 221.8,564.0C223.8,559.6 226.1,554.8 228.6,550.5C231.1,546.2 234.1,541.6 236.8,538.2C239.5,534.8 242.1,532.1 245.0,530.0C247.9,527.9 251.1,526.5 254.5,525.4C257.9,524.3 262.1,523.5 265.5,523.2C268.9,522.9 271.8,523.2 275.0,523.7C278.2,524.2 281.3,525.2 284.5,526.5C287.7,527.8 290.8,529.7 294.0,531.4C297.2,533.1 300.9,535.2 303.6,536.8C306.3,538.4 308.1,540.0 310.4,540.9C312.7,541.8 314.8,542.3 317.3,542.3C319.8,542.3 322.8,541.6 325.5,540.9C328.2,540.2 331.1,539.6 333.6,538.2C336.1,536.8 338.7,534.3 340.5,532.7C342.3,531.1 343.8,529.3 344.5,528.6" fill="none" stroke="#f23a3a" stroke-width="1.3"/><circle cx="211.3" cy="595.6" r="2.1" fill="#f23a3a"/><circle cx="211.6" cy="593.8" r="2.1" fill="#f23a3a"/><circle cx="212.1" cy="591.5" r="2.1" fill="#f23a3a"/><circle cx="212.5" cy="589.3" r="2.1" fill="#f23a3a"/><circle cx="213.1" cy="586.9" r="2.1" fill="#f23a3a"/><circle cx="213.9" cy="583.9" r="2.1" fill="#f23a3a"/><circle cx="215.0" cy="580.7" r="2.1" fill="#f23a3a"/><circle cx="216.4" cy="577.0" r="2.1" fill="#f23a3a"/><circle cx="218.0" cy="573.0" r="2.1" fill="#f23a3a"/><circle cx="220.0" cy="568.2" r="2.1" fill="#f23a3a"/><circle cx="222.1" cy="563.3" r="2.1" fill="#f23a3a"/><circle cx="224.7" cy="557.9" r="2.1" fill="#f23a3a"/><circle cx="227.9" cy="551.8" r="2.1" fill="#f23a3a"/><circle cx="231.8" cy="545.3" r="2.1" fill="#f23a3a"/><circle cx="236.4" cy="538.7" r="2.1" fill="#f23a3a"/><circle cx="241.6" cy="532.8" r="2.1" fill="#f23a3a"/><circle cx="247.7" cy="528.3" r="2.1" fill="#f23a3a"/><circle cx="255.0" cy="525.2" r="2.1" fill="#f23a3a"/><circle cx="262.8" cy="523.5" r="2.1" fill="#f23a3a"/><circle cx="270.8" cy="523.2" r="2.1" fill="#f23a3a"/><circle cx="278.3" cy="524.4" r="2.1" fill="#f23a3a"/><circle cx="285.9" cy="527.1" r="2.1" fill="#f23a3a"/><circle cx="293.0" cy="530.9" r="2.1" fill="#f23a3a"/><circle cx="300.0" cy="534.7" r="2.1" fill="#f23a3a"/><circle cx="306.5" cy="538.7" r="2.1" fill="#f23a3a"/><circle cx="313.4" cy="541.9" r="2.1" fill="#f23a3a"/><circle cx="321.3" cy="541.9" r="2.1" fill="#f23a3a"/><circle cx="328.8" cy="540.0" r="2.1" fill="#f23a3a"/><circle cx="335.8" cy="536.7" r="2.1" fill="#f23a3a"/><circle cx="341.8" cy="531.5" r="2.1" fill="#f23a3a"/><circle cx="344.5" cy="528.6" r="2.1" fill="#f23a3a"/>
<path d="M211.3,595.6C211.5,594.5 212.1,591.1 212.6,589.0C213.1,586.9 213.6,584.9 214.2,583.0C214.8,581.1 215.1,580.6 216.4,577.8C217.7,575.0 219.8,570.4 221.8,566.3C223.8,562.2 226.1,557.2 228.6,553.2C231.1,549.2 234.1,545.2 236.8,542.3C239.5,539.3 242.1,537.3 245.0,535.5C247.9,533.7 251.1,532.4 254.5,531.4C257.9,530.4 262.1,529.3 265.5,529.2C268.9,529.1 271.8,529.9 275.0,530.8C278.2,531.7 281.3,533.2 284.5,534.6C287.7,536.0 291.0,537.8 294.0,539.0C297.0,540.2 299.6,541.2 302.3,541.7C305.0,542.2 307.7,542.7 310.4,542.3C313.1,541.9 315.9,540.6 318.6,539.5C321.3,538.4 324.1,537.1 326.8,535.5C329.5,533.9 332.3,532.3 335.0,530.0C337.7,527.7 341.8,523.2 343.2,521.8" fill="none" stroke="#25c07c" stroke-width="1.3"/><circle cx="211.3" cy="595.6" r="2.1" fill="#25c07c"/><circle cx="211.6" cy="593.8" r="2.1" fill="#25c07c"/><circle cx="212.1" cy="591.5" r="2.1" fill="#25c07c"/><circle cx="212.5" cy="589.3" r="2.1" fill="#25c07c"/><circle cx="213.1" cy="586.8" r="2.1" fill="#25c07c"/><circle cx="213.9" cy="583.9" r="2.1" fill="#25c07c"/><circle cx="215.1" cy="580.7" r="2.1" fill="#25c07c"/><circle cx="216.6" cy="577.4" r="2.1" fill="#25c07c"/><circle cx="218.5" cy="573.1" r="2.1" fill="#25c07c"/><circle cx="220.6" cy="568.8" r="2.1" fill="#25c07c"/><circle cx="223.0" cy="563.7" r="2.1" fill="#25c07c"/><circle cx="225.7" cy="558.4" r="2.1" fill="#25c07c"/><circle cx="229.4" cy="552.0" r="2.1" fill="#25c07c"/><circle cx="233.9" cy="545.7" r="2.1" fill="#25c07c"/><circle cx="239.2" cy="539.9" r="2.1" fill="#25c07c"/><circle cx="245.4" cy="535.2" r="2.1" fill="#25c07c"/><circle cx="252.5" cy="532.1" r="2.1" fill="#25c07c"/><circle cx="260.0" cy="529.9" r="2.1" fill="#25c07c"/><circle cx="268.0" cy="529.3" r="2.1" fill="#25c07c"/><circle cx="275.5" cy="530.9" r="2.1" fill="#25c07c"/><circle cx="282.6" cy="533.8" r="2.1" fill="#25c07c"/><circle cx="289.8" cy="537.1" r="2.1" fill="#25c07c"/><circle cx="297.0" cy="540.2" r="2.1" fill="#25c07c"/><circle cx="304.7" cy="542.1" r="2.1" fill="#25c07c"/><circle cx="312.4" cy="541.9" r="2.1" fill="#25c07c"/><circle cx="319.8" cy="539.0" r="2.1" fill="#25c07c"/><circle cx="326.8" cy="535.5" r="2.1" fill="#25c07c"/><circle cx="333.4" cy="531.3" r="2.1" fill="#25c07c"/><circle cx="339.1" cy="526.0" r="2.1" fill="#25c07c"/><circle cx="343.2" cy="521.8" r="2.1" fill="#25c07c"/>
<path d="M211.3,595.6C211.5,594.5 212.1,591.1 212.6,589.0C213.1,586.9 213.6,584.8 214.2,583.0C214.8,581.2 215.1,581.0 216.4,578.5C217.7,576.0 219.8,571.9 221.8,568.2C223.8,564.5 226.1,560.0 228.6,556.4C231.1,552.8 234.1,549.0 236.8,546.4C239.5,543.8 242.1,542.5 245.0,541.0C247.9,539.5 251.3,538.3 254.5,537.6C257.7,536.9 260.8,536.6 264.0,536.8C267.2,537.0 270.6,538.1 273.6,539.0C276.6,539.9 279.1,541.1 281.8,542.3C284.5,543.5 287.5,545.3 290.0,546.4C292.5,547.5 294.8,548.6 296.8,549.0C298.9,549.4 300.3,549.6 302.3,549.0C304.3,548.4 306.7,547.3 309.0,545.5C311.3,543.7 313.7,540.8 316.0,538.2C318.3,535.6 320.4,533.0 322.7,530.0C324.9,527.0 327.2,523.6 329.5,520.4C331.8,517.2 333.9,514.9 336.4,511.0C338.9,507.1 343.1,499.6 344.5,497.3" fill="none" stroke="#f58a1f" stroke-width="1.3"/><circle cx="211.3" cy="595.6" r="2.1" fill="#f58a1f"/><circle cx="211.6" cy="593.8" r="2.1" fill="#f58a1f"/><circle cx="212.1" cy="591.5" r="2.1" fill="#f58a1f"/><circle cx="212.5" cy="589.3" r="2.1" fill="#f58a1f"/><circle cx="213.1" cy="586.8" r="2.1" fill="#f58a1f"/><circle cx="213.8" cy="584.1" r="2.1" fill="#f58a1f"/><circle cx="215.1" cy="581.0" r="2.1" fill="#f58a1f"/><circle cx="216.8" cy="577.7" r="2.1" fill="#f58a1f"/><circle cx="218.8" cy="573.8" r="2.1" fill="#f58a1f"/><circle cx="221.2" cy="569.3" r="2.1" fill="#f58a1f"/><circle cx="223.7" cy="564.7" r="2.1" fill="#f58a1f"/><circle cx="226.8" cy="559.3" r="2.1" fill="#f58a1f"/><circle cx="230.6" cy="553.7" r="2.1" fill="#f58a1f"/><circle cx="235.6" cy="547.6" r="2.1" fill="#f58a1f"/><circle cx="241.6" cy="542.8" r="2.1" fill="#f58a1f"/><circle cx="248.7" cy="539.4" r="2.1" fill="#f58a1f"/><circle cx="255.9" cy="537.3" r="2.1" fill="#f58a1f"/><circle cx="263.5" cy="536.8" r="2.1" fill="#f58a1f"/><circle cx="270.8" cy="538.2" r="2.1" fill="#f58a1f"/><circle cx="278.2" cy="540.7" r="2.1" fill="#f58a1f"/><circle cx="285.1" cy="544.0" r="2.1" fill="#f58a1f"/><circle cx="291.8" cy="547.2" r="2.1" fill="#f58a1f"/><circle cx="299.0" cy="549.4" r="2.1" fill="#f58a1f"/><circle cx="306.2" cy="547.3" r="2.1" fill="#f58a1f"/><circle cx="312.1" cy="542.5" r="2.1" fill="#f58a1f"/><circle cx="317.4" cy="536.6" r="2.1" fill="#f58a1f"/><circle cx="322.0" cy="530.9" r="2.1" fill="#f58a1f"/><circle cx="326.4" cy="524.8" r="2.1" fill="#f58a1f"/><circle cx="330.9" cy="518.6" r="2.1" fill="#f58a1f"/><circle cx="335.3" cy="512.6" r="2.1" fill="#f58a1f"/><circle cx="339.5" cy="506.0" r="2.1" fill="#f58a1f"/><circle cx="344.5" cy="497.3" r="2.1" fill="#f58a1f"/>
<path d="M211.3,595.6C211.5,594.5 212.1,591.1 212.6,589.0C213.1,586.9 213.6,584.7 214.2,583.0C214.8,581.3 215.1,581.2 216.4,579.0C217.7,576.8 219.8,572.9 221.8,569.5C223.8,566.1 226.3,561.6 228.6,558.6C230.9,555.6 233.2,553.5 235.5,551.8C237.8,550.1 240.1,549.0 242.3,548.3C244.6,547.6 246.7,547.6 249.0,547.7C251.3,547.8 253.7,548.3 256.0,549.0C258.3,549.7 260.4,550.6 262.7,551.8C264.9,553.0 267.2,554.6 269.5,556.0C271.8,557.4 274.3,559.1 276.4,560.0C278.4,560.9 280.0,561.5 281.8,561.4C283.6,561.3 285.3,560.6 287.3,559.2C289.3,557.8 291.7,555.3 294.0,553.2C296.3,551.1 298.5,548.9 301.0,546.4C303.5,543.9 306.3,540.9 309.0,538.2C311.7,535.5 314.6,532.7 317.3,530.0C320.1,527.3 322.8,524.8 325.5,521.8C328.2,518.8 330.4,516.2 333.6,512.3C336.8,508.4 342.7,500.9 344.5,498.6" fill="none" stroke="#1fb4ee" stroke-width="1.3"/><circle cx="211.3" cy="595.6" r="2.1" fill="#1fb4ee"/><circle cx="211.6" cy="593.8" r="2.1" fill="#1fb4ee"/><circle cx="212.1" cy="591.5" r="2.1" fill="#1fb4ee"/><circle cx="212.5" cy="589.3" r="2.1" fill="#1fb4ee"/><circle cx="213.1" cy="586.8" r="2.1" fill="#1fb4ee"/><circle cx="213.8" cy="584.1" r="2.1" fill="#1fb4ee"/><circle cx="215.2" cy="581.1" r="2.1" fill="#1fb4ee"/><circle cx="217.0" cy="577.9" r="2.1" fill="#1fb4ee"/><circle cx="219.1" cy="574.2" r="2.1" fill="#1fb4ee"/><circle cx="221.5" cy="570.0" r="2.1" fill="#1fb4ee"/><circle cx="224.4" cy="565.0" r="2.1" fill="#1fb4ee"/><circle cx="227.6" cy="560.0" r="2.1" fill="#1fb4ee"/><circle cx="232.1" cy="554.7" r="2.1" fill="#1fb4ee"/><circle cx="237.2" cy="550.6" r="2.1" fill="#1fb4ee"/><circle cx="243.3" cy="548.0" r="2.1" fill="#1fb4ee"/><circle cx="250.0" cy="547.8" r="2.1" fill="#1fb4ee"/><circle cx="256.7" cy="549.2" r="2.1" fill="#1fb4ee"/><circle cx="263.0" cy="552.0" r="2.1" fill="#1fb4ee"/><circle cx="268.8" cy="555.6" r="2.1" fill="#1fb4ee"/><circle cx="274.8" cy="559.2" r="2.1" fill="#1fb4ee"/><circle cx="281.0" cy="561.4" r="2.1" fill="#1fb4ee"/><circle cx="287.3" cy="559.2" r="2.1" fill="#1fb4ee"/><circle cx="292.3" cy="554.8" r="2.1" fill="#1fb4ee"/><circle cx="297.1" cy="550.3" r="2.1" fill="#1fb4ee"/><circle cx="302.1" cy="545.2" r="2.1" fill="#1fb4ee"/><circle cx="307.0" cy="540.3" r="2.1" fill="#1fb4ee"/><circle cx="311.9" cy="535.3" r="2.1" fill="#1fb4ee"/><circle cx="316.9" cy="530.4" r="2.1" fill="#1fb4ee"/><circle cx="321.8" cy="525.6" r="2.1" fill="#1fb4ee"/><circle cx="326.7" cy="520.5" r="2.1" fill="#1fb4ee"/><circle cx="331.4" cy="515.0" r="2.1" fill="#1fb4ee"/><circle cx="335.8" cy="509.6" r="2.1" fill="#1fb4ee"/><circle cx="340.2" cy="504.1" r="2.1" fill="#1fb4ee"/><circle cx="344.5" cy="498.6" r="2.1" fill="#1fb4ee"/>
<path d="M211.3,595.6C211.5,594.5 212.1,591.1 212.6,589.0C213.1,586.9 213.6,584.6 214.2,583.0C214.8,581.4 215.1,581.5 216.4,579.5C217.7,577.5 220.0,573.8 221.8,571.0C223.6,568.2 225.3,565.0 227.3,562.7C229.3,560.4 231.7,558.5 234.0,557.3C236.3,556.1 238.7,555.5 241.0,555.4C243.3,555.2 245.4,555.8 247.7,556.4C249.9,557.0 252.2,558.2 254.5,559.2C256.8,560.2 259.1,561.7 261.4,562.7C263.7,563.7 265.9,565.0 268.2,565.4C270.5,565.8 272.7,566.0 275.0,565.4C277.3,564.8 279.5,563.6 281.8,561.9C284.1,560.2 286.3,558.0 288.6,555.4C290.9,552.8 293.2,549.3 295.5,546.4C297.8,543.5 300.1,541.2 302.3,538.2C304.6,535.2 306.7,531.8 309.0,528.6C311.3,525.4 313.7,522.2 316.0,519.0C318.3,515.8 320.2,512.9 322.7,509.5C325.2,506.1 328.5,501.8 331.0,498.6C333.5,495.4 336.0,492.6 337.7,490.5C339.4,488.4 340.4,486.8 341.0,486.0" fill="none" stroke="#4a4cf0" stroke-width="1.3"/><circle cx="211.3" cy="595.6" r="2.1" fill="#4a4cf0"/><circle cx="211.6" cy="593.8" r="2.1" fill="#4a4cf0"/><circle cx="212.1" cy="591.5" r="2.1" fill="#4a4cf0"/><circle cx="212.5" cy="589.3" r="2.1" fill="#4a4cf0"/><circle cx="213.1" cy="586.8" r="2.1" fill="#4a4cf0"/><circle cx="213.8" cy="584.0" r="2.1" fill="#4a4cf0"/><circle cx="215.3" cy="581.1" r="2.1" fill="#4a4cf0"/><circle cx="217.3" cy="578.1" r="2.1" fill="#4a4cf0"/><circle cx="219.5" cy="574.6" r="2.1" fill="#4a4cf0"/><circle cx="222.1" cy="570.6" r="2.1" fill="#4a4cf0"/><circle cx="225.0" cy="565.8" r="2.1" fill="#4a4cf0"/><circle cx="228.9" cy="561.1" r="2.1" fill="#4a4cf0"/><circle cx="234.3" cy="557.1" r="2.1" fill="#4a4cf0"/><circle cx="241.0" cy="555.4" r="2.1" fill="#4a4cf0"/><circle cx="247.7" cy="556.4" r="2.1" fill="#4a4cf0"/><circle cx="253.8" cy="558.9" r="2.1" fill="#4a4cf0"/><circle cx="260.0" cy="562.0" r="2.1" fill="#4a4cf0"/><circle cx="266.2" cy="564.8" r="2.1" fill="#4a4cf0"/><circle cx="273.0" cy="565.7" r="2.1" fill="#4a4cf0"/><circle cx="279.4" cy="563.5" r="2.1" fill="#4a4cf0"/><circle cx="284.9" cy="559.3" r="2.1" fill="#4a4cf0"/><circle cx="289.6" cy="554.2" r="2.1" fill="#4a4cf0"/><circle cx="293.8" cy="548.7" r="2.1" fill="#4a4cf0"/><circle cx="298.2" cy="543.1" r="2.1" fill="#4a4cf0"/><circle cx="302.6" cy="537.8" r="2.1" fill="#4a4cf0"/><circle cx="306.6" cy="532.0" r="2.1" fill="#4a4cf0"/><circle cx="310.7" cy="526.2" r="2.1" fill="#4a4cf0"/><circle cx="315.0" cy="520.4" r="2.1" fill="#4a4cf0"/><circle cx="318.9" cy="514.8" r="2.1" fill="#4a4cf0"/><circle cx="323.1" cy="509.0" r="2.1" fill="#4a4cf0"/><circle cx="327.3" cy="503.4" r="2.1" fill="#4a4cf0"/><circle cx="331.4" cy="498.1" r="2.1" fill="#4a4cf0"/><circle cx="335.7" cy="493.0" r="2.1" fill="#4a4cf0"/><circle cx="341.0" cy="486.0" r="2.1" fill="#4a4cf0"/>
</g>
<line x1="211.8" y1="497.2" x2="221.20000000000002" y2="497.2" stroke="#000" stroke-width="1.4"/><circle cx="216.5" cy="497.2" r="2" fill="#000"/>
<text x="223.10000000000002" y="499.7" font-size="7.0" text-anchor="start" fill="#000" font-weight="bold" >Blank</text>
<line x1="211.8" y1="506.9" x2="221.20000000000002" y2="506.9" stroke="#f23a3a" stroke-width="1.4"/><circle cx="216.5" cy="506.9" r="2" fill="#f23a3a"/>
<text x="223.10000000000002" y="509.4" font-size="7.0" text-anchor="start" fill="#000" font-weight="bold" >IL-1&#946;</text>
<line x1="211.8" y1="516.6" x2="221.20000000000002" y2="516.6" stroke="#4a4cf0" stroke-width="1.4"/><circle cx="216.5" cy="516.6" r="2" fill="#4a4cf0"/>
<text x="223.10000000000002" y="519.1" font-size="7.0" text-anchor="start" fill="#000" font-weight="bold" >Myo</text>
<line x1="247" y1="497.2" x2="256.4" y2="497.2" stroke="#f58a1f" stroke-width="1.4"/><circle cx="251.7" cy="497.2" r="2" fill="#f58a1f"/>
<text x="258.3" y="499.7" font-size="7.0" text-anchor="start" fill="#000" font-weight="bold" >IL-1&#946;+Myo</text>
<line x1="247" y1="506.9" x2="256.4" y2="506.9" stroke="#25c07c" stroke-width="1.4"/><circle cx="251.7" cy="506.9" r="2" fill="#25c07c"/>
<text x="258.3" y="509.4" font-size="7.0" text-anchor="start" fill="#000" font-weight="bold" >IL-1&#946;+IgG</text>
<line x1="247" y1="516.6" x2="256.4" y2="516.6" stroke="#1fb4ee" stroke-width="1.4"/><circle cx="251.7" cy="516.6" r="2" fill="#1fb4ee"/>
<text x="258.3" y="519.1" font-size="7.0" text-anchor="start" fill="#000" font-weight="bold" >IgG</text>
<text x="343" y="589.2" font-size="9.3" text-anchor="end" fill="#000" font-weight="bold" >300 pg mL<tspan dy="-3.2" font-size="5.8">-1</tspan></text></g>
<g id="pj"><rect x="404.9" y="490.7" width="132.30000000000007" height="105.40000000000003" fill="#fff" stroke="#000" stroke-width="1.2"/>
<line x1="402.09999999999997" y1="490.7" x2="404.9" y2="490.7" stroke="#000" stroke-width="1.2"/>
<text x="400.5" y="494.0" font-size="9.2" text-anchor="end" fill="#000" font-weight="bold" >-6</text>
<line x1="402.09999999999997" y1="526" x2="404.9" y2="526" stroke="#000" stroke-width="1.2"/>
<text x="400.5" y="529.3" font-size="9.2" text-anchor="end" fill="#000" font-weight="bold" >-4</text>
<line x1="402.09999999999997" y1="560.9" x2="404.9" y2="560.9" stroke="#000" stroke-width="1.2"/>
<text x="400.5" y="564.1999999999999" font-size="9.2" text-anchor="end" fill="#000" font-weight="bold" >-2</text>
<line x1="402.09999999999997" y1="596.1" x2="404.9" y2="596.1" stroke="#000" stroke-width="1.2"/>
<text x="400.5" y="599.4" font-size="9.2" text-anchor="end" fill="#000" font-weight="bold" >0</text>
<line x1="403.2" y1="508.3" x2="404.9" y2="508.3" stroke="#000" stroke-width="1"/>
<line x1="403.2" y1="543.5" x2="404.9" y2="543.5" stroke="#000" stroke-width="1"/>
<line x1="403.2" y1="578.5" x2="404.9" y2="578.5" stroke="#000" stroke-width="1"/>
<line x1="418.9" y1="515.6" x2="418.9" y2="507.3" stroke="#000" stroke-width="1.1"/><line x1="415.59999999999997" y1="507.3" x2="422.2" y2="507.3" stroke="#000" stroke-width="1.1"/>
<rect x="411.1" y="515.6" width="15.599999999999966" height="80.5" fill="#fb5656" stroke="#000" stroke-width="1.1"/>
<line x1="418.9" y1="596.1" x2="418.9" y2="598.9" stroke="#000" stroke-width="1.2"/>
<text transform="translate(414.59999999999997,606.2) rotate(32.5)" font-size="9" font-weight="bold" font-style="italic">IL-1&#946;</text>
<line x1="445.15" y1="544.3" x2="445.15" y2="538.4" stroke="#000" stroke-width="1.1"/><line x1="441.84999999999997" y1="538.4" x2="448.45" y2="538.4" stroke="#000" stroke-width="1.1"/>
<rect x="437" y="544.3" width="16.30000000000001" height="51.80000000000007" fill="#27b877" stroke="#000" stroke-width="1.1"/>
<line x1="445.15" y1="596.1" x2="445.15" y2="598.9" stroke="#000" stroke-width="1.2"/>
<text transform="translate(438.15,605.1) rotate(32.5)" font-size="9" font-weight="bold" font-style="italic">IL-1&#946;+IgG</text>
<line x1="471.4" y1="527" x2="471.4" y2="520" stroke="#000" stroke-width="1.1"/><line x1="468.09999999999997" y1="520" x2="474.7" y2="520" stroke="#000" stroke-width="1.1"/>
<rect x="463.6" y="527" width="15.599999999999966" height="69.10000000000002" fill="#fdb062" stroke="#000" stroke-width="1.1"/>
<line x1="471.4" y1="596.1" x2="471.4" y2="598.9" stroke="#000" stroke-width="1.2"/>
<text transform="translate(465.79999999999995,605.6) rotate(32.5)" font-size="9" font-weight="bold" font-style="italic">IL-1&#946;+Myo</text>
<line x1="497.85" y1="572.2" x2="497.85" y2="568.8" stroke="#000" stroke-width="1.1"/><line x1="494.55" y1="568.8" x2="501.15000000000003" y2="568.8" stroke="#000" stroke-width="1.1"/>
<rect x="489.9" y="572.2" width="15.900000000000034" height="23.899999999999977" fill="#14caf6" stroke="#000" stroke-width="1.1"/>
<line x1="497.85" y1="596.1" x2="497.85" y2="598.9" stroke="#000" stroke-width="1.2"/>
<text transform="translate(494.35,606.7) rotate(32.5)" font-size="9" font-weight="bold" font-style="italic">IgG</text>
<line x1="523.9000000000001" y1="590.9" x2="523.9000000000001" y2="589.2" stroke="#000" stroke-width="1.1"/><line x1="520.6000000000001" y1="589.2" x2="527.2" y2="589.2" stroke="#000" stroke-width="1.1"/>
<rect x="516.1" y="590.9" width="15.600000000000023" height="5.2000000000000455" fill="#1f3fe0" stroke="#000" stroke-width="1.1"/>
<line x1="523.9000000000001" y1="596.1" x2="523.9000000000001" y2="598.9" stroke="#000" stroke-width="1.2"/>
<text transform="translate(517.4000000000001,605.1) rotate(32.5)" font-size="9" font-weight="bold" font-style="italic">Myo</text>
<text x="533" y="503" font-size="9.7" text-anchor="end" fill="#000" font-weight="bold" >300 pg mL<tspan dy="-3.2" font-size="6">-1</tspan></text>
<text x="444.8" y="533.2" font-size="7.9" text-anchor="middle" fill="#000" font-weight="bold" >-16.5 %</text>
<text x="473.5" y="516.6" font-size="7.9" text-anchor="middle" fill="#000" font-weight="bold" >-6.5 %</text>
<text transform="translate(383.3,544.7) rotate(-90)" font-size="10" text-anchor="middle" font-weight="bold">&#916;R<tspan dy="2.5" font-size="7">ct</tspan><tspan dy="-2.5"> (k&#937;)</tspan></text></g>
<text x="5" y="19.5" font-size="15" text-anchor="start" fill="#000" font-weight="bold" >(a)</text>
<text x="4.7" y="176.3" font-size="15" text-anchor="start" fill="#000" font-weight="bold" >(b)</text>
<text x="203" y="18.5" font-size="15" text-anchor="start" fill="#000" font-weight="bold" >(c)</text>
<text x="202.5" y="148.2" font-size="15" text-anchor="start" fill="#000" font-weight="bold" >(d)</text>
<text x="368.5" y="148.7" font-size="15" text-anchor="start" fill="#000" font-weight="bold" >(e)</text>
<text x="6.5" y="341.2" font-size="15" text-anchor="start" fill="#000" font-weight="bold" >(f)</text>
<text x="168.5" y="341.5" font-size="15" text-anchor="start" fill="#000" font-weight="bold" >(g)</text>
<text x="367.5" y="341.5" font-size="15" text-anchor="start" fill="#000" font-weight="bold" >(h)</text>
<text x="170" y="486" font-size="15" text-anchor="start" fill="#000" font-weight="bold" >(i)</text>
<text x="371" y="486.7" font-size="15" text-anchor="start" fill="#000" font-weight="bold" >(j)</text>
</svg></body></html>
